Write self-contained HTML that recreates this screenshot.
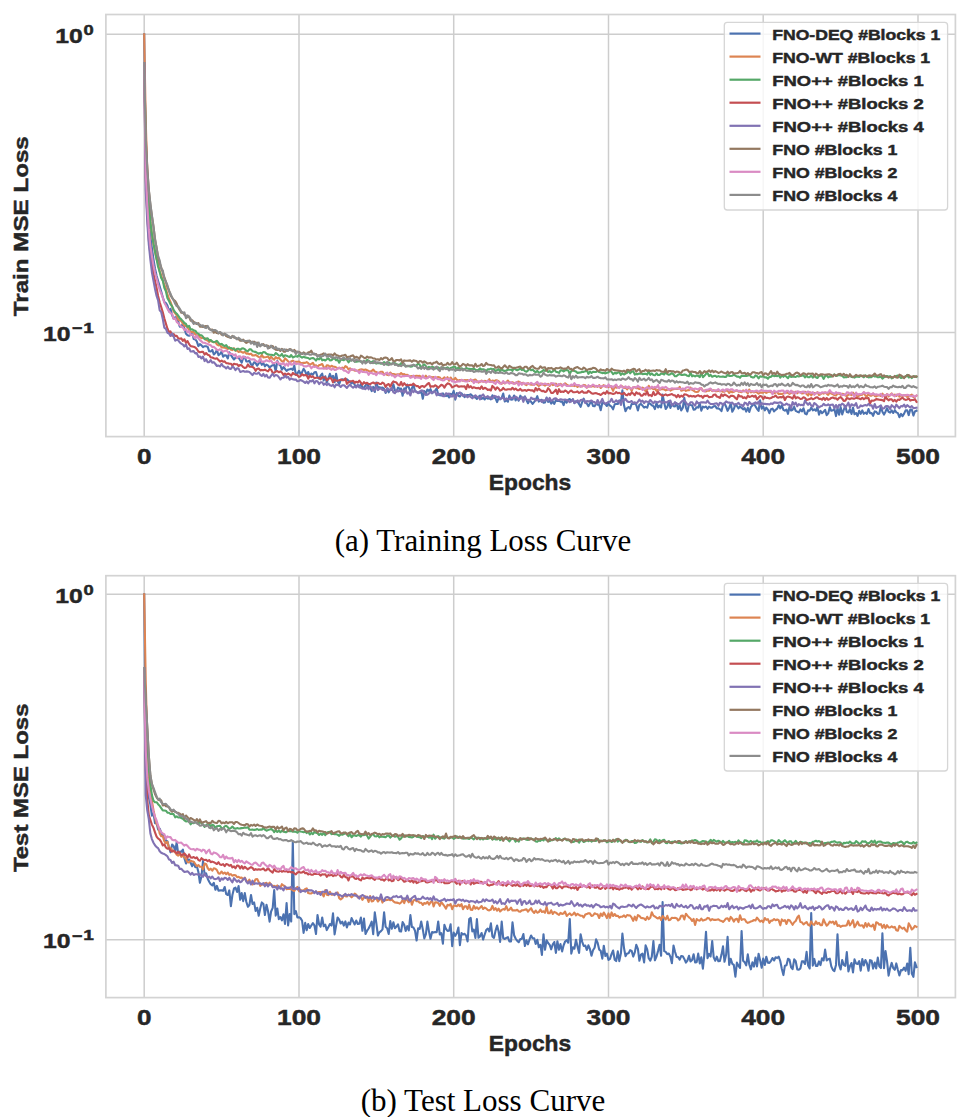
<!DOCTYPE html>
<html><head><meta charset="utf-8"><style>html,body{margin:0;padding:0;background:#fff;width:968px;height:1117px;overflow:hidden}svg{display:block}</style></head>
<body><svg width="968" height="1117" viewBox="0 0 968 1117">
<rect width="968" height="1117" fill="#fff"/>
<line x1="144.2" y1="14.5" x2="144.2" y2="436.6" stroke="#cdcdcd" stroke-width="1.5"/>
<line x1="299.0" y1="14.5" x2="299.0" y2="436.6" stroke="#cdcdcd" stroke-width="1.5"/>
<line x1="453.7" y1="14.5" x2="453.7" y2="436.6" stroke="#cdcdcd" stroke-width="1.5"/>
<line x1="608.5" y1="14.5" x2="608.5" y2="436.6" stroke="#cdcdcd" stroke-width="1.5"/>
<line x1="763.2" y1="14.5" x2="763.2" y2="436.6" stroke="#cdcdcd" stroke-width="1.5"/>
<line x1="918.0" y1="14.5" x2="918.0" y2="436.6" stroke="#cdcdcd" stroke-width="1.5"/>
<line x1="105.9" y1="34.3" x2="955.4" y2="34.3" stroke="#cdcdcd" stroke-width="1.5"/>
<line x1="105.9" y1="332.5" x2="955.4" y2="332.5" stroke="#cdcdcd" stroke-width="1.5"/>
<polyline fill="none" stroke="#4C72B0" stroke-width="2.1" stroke-linejoin="round" stroke-linecap="square" points="144.2,34.3 145.7,164.9 147.3,199.7 148.8,222.2 150.4,236.3 151.9,248.1 153.5,259.3 155.0,268.5 156.6,275.8 158.1,281.0 159.7,286.4 161.2,291.6 162.8,297.2 164.3,301.9 165.9,303.0 167.4,305.6 169.0,311.6 170.5,308.8 172.1,315.0 173.6,318.6 175.2,317.2 176.7,318.8 178.2,321.5 179.8,326.6 181.3,326.4 182.9,323.8 184.4,328.8 186.0,333.8 187.5,335.2 189.1,335.7 190.6,335.1 192.2,332.7 193.7,338.9 195.3,339.4 196.8,341.3 198.4,346.1 199.9,344.0 201.5,345.4 203.0,347.2 204.6,346.2 206.1,346.2 207.7,346.9 209.2,351.3 210.7,351.5 212.3,349.9 213.8,354.5 215.4,352.9 216.9,349.9 218.5,355.2 220.0,354.0 221.6,351.7 223.1,356.7 224.7,355.2 226.2,355.6 227.8,358.4 229.3,352.3 230.9,354.9 232.4,357.4 234.0,359.5 235.5,357.7 237.1,357.4 238.6,357.7 240.2,360.3 241.7,362.6 243.2,357.9 244.8,356.8 246.3,361.4 247.9,361.5 249.4,360.6 251.0,364.5 252.5,365.3 254.1,362.3 255.6,363.1 257.2,365.6 258.7,363.4 260.3,361.4 261.8,364.8 263.4,363.1 264.9,366.3 266.5,364.5 268.0,365.5 269.6,367.5 271.1,366.2 272.7,365.2 274.2,364.6 275.7,371.4 277.3,361.0 278.8,364.1 280.4,365.5 281.9,369.6 283.5,367.1 285.0,368.8 286.6,371.0 288.1,369.6 289.7,369.3 291.2,368.7 292.8,369.9 294.3,365.5 295.9,374.9 297.4,373.6 299.0,370.8 300.5,373.8 302.1,372.2 303.6,368.8 305.2,371.3 306.7,375.4 308.2,372.0 309.8,376.1 311.3,373.5 312.9,374.7 314.4,372.2 316.0,372.0 317.5,377.0 319.1,378.7 320.6,375.6 322.2,373.6 323.7,380.5 325.3,376.3 326.8,382.4 328.4,378.4 329.9,373.8 331.5,377.9 333.0,375.8 334.6,382.2 336.1,373.8 337.6,381.3 339.2,384.2 340.7,379.9 342.3,379.3 343.8,380.0 345.4,379.1 346.9,379.2 348.5,380.8 350.0,381.9 351.6,383.4 353.1,382.0 354.7,384.8 356.2,387.2 357.8,385.2 359.3,387.0 360.9,384.1 362.4,387.2 364.0,387.8 365.5,385.4 367.1,383.5 368.6,386.9 370.1,387.5 371.7,391.1 373.2,386.9 374.8,392.0 376.3,382.5 377.9,387.6 379.4,387.3 381.0,387.8 382.5,387.6 384.1,388.9 385.6,393.0 387.2,388.9 388.7,392.3 390.3,389.4 391.8,390.0 393.4,384.2 394.9,390.2 396.5,391.6 398.0,387.6 399.6,388.9 401.1,388.5 402.6,395.7 404.2,388.4 405.7,389.2 407.3,384.6 408.8,387.4 410.4,391.7 411.9,388.3 413.5,384.9 415.0,390.9 416.6,391.9 418.1,392.5 419.7,392.8 421.2,390.6 422.8,398.8 424.3,391.0 425.9,393.4 427.4,389.5 429.0,391.1 430.5,389.1 432.1,393.3 433.6,392.0 435.1,390.7 436.7,388.4 438.2,394.6 439.8,395.3 441.3,395.5 442.9,393.4 444.4,395.4 446.0,396.1 447.5,395.2 449.1,397.5 450.6,393.9 452.2,394.9 453.7,390.9 455.3,399.6 456.8,393.0 458.4,395.7 459.9,396.5 461.5,393.3 463.0,395.2 464.6,397.1 466.1,395.3 467.6,395.0 469.2,395.1 470.7,394.3 472.3,395.7 473.8,397.1 475.4,397.4 476.9,399.0 478.5,396.7 480.0,395.5 481.6,398.8 483.1,397.8 484.7,399.4 486.2,397.6 487.8,398.6 489.3,398.3 490.9,399.3 492.4,395.3 494.0,397.5 495.5,398.3 497.1,402.1 498.6,397.9 500.1,399.3 501.7,397.9 503.2,393.5 504.8,401.5 506.3,400.3 507.9,401.7 509.4,395.6 511.0,399.7 512.5,399.5 514.1,395.5 515.6,400.4 517.2,398.0 518.7,400.7 520.3,395.7 521.8,397.6 523.4,398.1 524.9,396.3 526.5,400.2 528.0,403.2 529.6,400.2 531.1,401.8 532.6,403.9 534.2,401.8 535.7,399.7 537.3,396.2 538.8,401.6 540.4,400.1 541.9,399.9 543.5,402.8 545.0,402.5 546.6,397.6 548.1,401.9 549.7,400.7 551.2,403.6 552.8,401.6 554.3,403.9 555.9,400.2 557.4,401.0 559.0,400.7 560.5,401.6 562.1,401.6 563.6,405.1 565.1,400.0 566.7,402.6 568.2,399.7 569.8,399.1 571.3,401.2 572.9,399.1 574.4,403.2 576.0,401.1 577.5,401.7 579.1,404.1 580.6,406.8 582.2,401.9 583.7,398.6 585.3,402.4 586.8,403.4 588.4,406.2 589.9,403.4 591.5,401.5 593.0,405.9 594.6,406.3 596.1,403.4 597.6,404.6 599.2,404.8 600.7,410.2 602.3,402.7 603.8,403.2 605.4,404.0 606.9,406.0 608.5,403.7 610.0,405.7 611.6,406.7 613.1,409.3 614.7,404.3 616.2,403.9 617.8,404.0 619.3,400.4 620.9,402.1 622.4,390.4 624.0,405.3 625.5,411.2 627.1,408.0 628.6,407.0 630.1,408.7 631.7,403.7 633.2,403.9 634.8,403.5 636.3,405.0 637.9,410.5 639.4,404.8 641.0,404.0 642.5,405.6 644.1,407.6 645.6,406.8 647.2,407.7 648.7,402.9 650.3,403.7 651.8,405.3 653.4,406.1 654.9,409.1 656.5,402.9 658.0,407.5 659.6,405.5 661.1,407.5 662.6,394.5 664.2,402.8 665.7,409.0 667.3,406.9 668.8,401.6 670.4,408.0 671.9,403.9 673.5,406.1 675.0,406.4 676.6,403.2 678.1,409.1 679.7,405.3 681.2,410.4 682.8,407.8 684.3,397.9 685.9,407.3 687.4,411.4 689.0,404.3 690.5,404.9 692.1,405.3 693.6,409.6 695.1,409.4 696.7,407.2 698.2,407.6 699.8,403.1 701.3,410.6 702.9,406.6 704.4,407.4 706.0,406.5 707.5,408.8 709.1,406.7 710.6,407.6 712.2,407.6 713.7,406.2 715.3,406.0 716.8,408.4 718.4,408.4 719.9,409.3 721.5,411.1 723.0,404.7 724.5,403.3 726.1,406.7 727.6,410.8 729.2,407.7 730.7,403.5 732.3,411.7 733.8,409.1 735.4,404.4 736.9,406.0 738.5,408.3 740.0,406.7 741.6,407.8 743.1,409.4 744.7,408.2 746.2,411.6 747.8,407.8 749.3,411.9 750.9,407.0 752.4,405.6 754.0,403.4 755.5,406.4 757.0,408.8 758.6,410.9 760.1,400.4 761.7,408.6 763.2,406.4 764.8,410.4 766.3,407.6 767.9,409.6 769.4,413.2 771.0,409.2 772.5,408.6 774.1,411.4 775.6,409.8 777.2,408.6 778.7,405.3 780.3,408.4 781.8,405.3 783.4,409.8 784.9,410.7 786.5,409.5 788.0,413.8 789.5,406.7 791.1,410.5 792.6,409.7 794.2,406.8 795.7,410.8 797.3,411.7 798.8,412.4 800.4,409.4 801.9,411.4 803.5,408.3 805.0,413.5 806.6,414.3 808.1,410.4 809.7,410.6 811.2,407.6 812.8,410.3 814.3,409.4 815.9,410.8 817.4,407.0 819.0,414.6 820.5,410.9 822.0,413.1 823.6,411.7 825.1,409.9 826.7,415.2 828.2,413.4 829.8,407.2 831.3,410.8 832.9,410.3 834.4,409.0 836.0,416.1 837.5,408.1 839.1,414.7 840.6,407.0 842.2,414.4 843.7,409.9 845.3,405.9 846.8,412.0 848.4,412.5 849.9,409.2 851.5,414.0 853.0,407.5 854.5,414.3 856.1,413.0 857.6,415.9 859.2,410.8 860.7,413.9 862.3,410.4 863.8,413.8 865.4,412.5 866.9,413.9 868.5,409.0 870.0,413.2 871.6,413.0 873.1,415.8 874.7,411.4 876.2,411.8 877.8,413.9 879.3,413.6 880.9,406.4 882.4,411.8 884.0,414.6 885.5,411.7 887.0,408.2 888.6,411.8 890.1,412.6 891.7,410.4 893.2,413.0 894.8,410.2 896.3,412.4 897.9,413.1 899.4,417.2 901.0,413.9 902.5,416.1 904.1,413.6 905.6,410.4 907.2,410.4 908.7,415.1 910.3,409.5 911.8,409.5 913.4,415.6 914.9,411.5 916.5,410.7"/>
<polyline fill="none" stroke="#DD8452" stroke-width="2.1" stroke-linejoin="round" stroke-linecap="square" points="144.2,34.3 145.7,120.1 147.3,172.2 148.8,202.3 150.4,221.9 151.9,234.5 153.5,244.4 155.0,251.8 156.6,259.2 158.1,263.5 159.7,271.5 161.2,275.1 162.8,280.7 164.3,284.6 165.9,288.9 167.4,294.2 169.0,298.8 170.5,301.9 172.1,306.3 173.6,311.3 175.2,313.3 176.7,315.5 178.2,319.6 179.8,320.5 181.3,321.0 182.9,323.8 184.4,325.6 186.0,326.2 187.5,327.2 189.1,329.9 190.6,331.9 192.2,331.8 193.7,332.2 195.3,334.3 196.8,335.5 198.4,335.3 199.9,337.0 201.5,338.3 203.0,337.8 204.6,338.0 206.1,339.9 207.7,340.5 209.2,342.1 210.7,340.4 212.3,341.7 213.8,342.2 215.4,341.9 216.9,344.4 218.5,345.4 220.0,344.7 221.6,347.4 223.1,347.4 224.7,347.7 226.2,348.0 227.8,349.0 229.3,347.2 230.9,349.7 232.4,350.1 234.0,348.2 235.5,350.7 237.1,350.5 238.6,352.0 240.2,351.2 241.7,352.0 243.2,352.7 244.8,351.9 246.3,353.7 247.9,353.4 249.4,354.3 251.0,353.6 252.5,355.5 254.1,355.4 255.6,354.9 257.2,356.0 258.7,356.9 260.3,357.8 261.8,354.7 263.4,357.4 264.9,357.3 266.5,357.0 268.0,356.4 269.6,358.9 271.1,356.6 272.7,358.7 274.2,359.7 275.7,357.1 277.3,358.6 278.8,357.8 280.4,359.6 281.9,361.2 283.5,361.9 285.0,358.3 286.6,359.8 288.1,361.3 289.7,362.4 291.2,361.5 292.8,360.6 294.3,361.8 295.9,361.8 297.4,361.8 299.0,361.5 300.5,362.8 302.1,363.0 303.6,362.8 305.2,362.9 306.7,362.1 308.2,363.1 309.8,365.0 311.3,363.8 312.9,362.8 314.4,365.7 316.0,365.2 317.5,366.9 319.1,365.1 320.6,364.8 322.2,364.0 323.7,367.0 325.3,368.4 326.8,365.2 328.4,365.6 329.9,367.0 331.5,365.8 333.0,366.5 334.6,366.7 336.1,367.4 337.6,368.5 339.2,367.6 340.7,368.7 342.3,367.5 343.8,368.5 345.4,366.2 346.9,367.0 348.5,369.5 350.0,368.3 351.6,369.6 353.1,369.8 354.7,370.7 356.2,370.4 357.8,370.8 359.3,369.8 360.9,369.4 362.4,369.5 364.0,370.0 365.5,369.5 367.1,370.2 368.6,370.9 370.1,371.4 371.7,371.0 373.2,369.5 374.8,371.6 376.3,372.0 377.9,373.1 379.4,372.7 381.0,371.7 382.5,371.8 384.1,374.7 385.6,373.6 387.2,374.8 388.7,375.3 390.3,372.5 391.8,373.9 393.4,374.1 394.9,374.4 396.5,374.6 398.0,374.4 399.6,374.5 401.1,373.0 402.6,374.5 404.2,374.1 405.7,375.1 407.3,374.7 408.8,376.0 410.4,376.3 411.9,376.0 413.5,376.1 415.0,376.1 416.6,375.7 418.1,376.1 419.7,375.9 421.2,377.0 422.8,376.7 424.3,377.4 425.9,375.7 427.4,378.0 429.0,376.5 430.5,376.7 432.1,377.4 433.6,377.1 435.1,378.1 436.7,377.4 438.2,377.0 439.8,377.4 441.3,379.6 442.9,378.5 444.4,377.4 446.0,378.7 447.5,377.2 449.1,380.7 450.6,377.5 452.2,379.6 453.7,379.8 455.3,377.9 456.8,379.8 458.4,380.6 459.9,380.1 461.5,380.0 463.0,380.8 464.6,380.1 466.1,380.4 467.6,380.1 469.2,380.9 470.7,379.4 472.3,381.3 473.8,380.1 475.4,379.6 476.9,381.1 478.5,382.6 480.0,381.9 481.6,380.5 483.1,381.8 484.7,380.8 486.2,381.2 487.8,381.5 489.3,379.2 490.9,381.8 492.4,380.6 494.0,381.1 495.5,380.4 497.1,380.4 498.6,381.1 500.1,382.9 501.7,383.8 503.2,382.2 504.8,383.4 506.3,382.2 507.9,380.6 509.4,382.7 511.0,383.1 512.5,382.3 514.1,383.1 515.6,383.5 517.2,382.1 518.7,381.6 520.3,382.9 521.8,383.0 523.4,382.9 524.9,384.3 526.5,385.2 528.0,383.1 529.6,384.3 531.1,384.6 532.6,384.4 534.2,384.8 535.7,383.5 537.3,384.7 538.8,386.0 540.4,384.9 541.9,383.5 543.5,384.8 545.0,385.6 546.6,384.7 548.1,383.9 549.7,386.0 551.2,383.3 552.8,385.1 554.3,384.7 555.9,383.6 557.4,386.1 559.0,385.3 560.5,383.8 562.1,385.7 563.6,384.7 565.1,383.3 566.7,384.6 568.2,385.6 569.8,386.0 571.3,385.6 572.9,385.6 574.4,386.1 576.0,385.4 577.5,386.9 579.1,385.9 580.6,386.1 582.2,386.5 583.7,384.9 585.3,385.3 586.8,387.6 588.4,386.5 589.9,386.0 591.5,386.6 593.0,385.9 594.6,386.7 596.1,385.8 597.6,386.8 599.2,385.1 600.7,388.0 602.3,386.2 603.8,385.2 605.4,386.7 606.9,386.6 608.5,387.2 610.0,385.9 611.6,387.5 613.1,390.8 614.7,386.0 616.2,387.7 617.8,387.1 619.3,387.6 620.9,385.7 622.4,386.4 624.0,388.1 625.5,387.6 627.1,389.4 628.6,387.1 630.1,388.0 631.7,390.8 633.2,387.2 634.8,387.1 636.3,388.1 637.9,388.1 639.4,389.0 641.0,388.4 642.5,387.6 644.1,388.6 645.6,391.1 647.2,389.8 648.7,385.8 650.3,388.5 651.8,387.8 653.4,389.3 654.9,388.6 656.5,390.8 658.0,389.8 659.6,389.8 661.1,389.2 662.6,389.0 664.2,389.4 665.7,390.4 667.3,389.7 668.8,388.9 670.4,390.6 671.9,389.6 673.5,389.3 675.0,388.7 676.6,389.0 678.1,388.9 679.7,386.8 681.2,390.7 682.8,390.3 684.3,389.6 685.9,390.9 687.4,390.3 689.0,390.3 690.5,387.5 692.1,389.8 693.6,390.6 695.1,391.8 696.7,392.0 698.2,391.7 699.8,389.1 701.3,388.1 702.9,391.0 704.4,390.5 706.0,391.5 707.5,390.4 709.1,390.8 710.6,389.1 712.2,391.1 713.7,390.3 715.3,391.1 716.8,391.3 718.4,390.8 719.9,391.3 721.5,391.0 723.0,391.8 724.5,391.6 726.1,390.6 727.6,390.6 729.2,393.0 730.7,391.2 732.3,392.3 733.8,391.8 735.4,390.8 736.9,390.7 738.5,391.6 740.0,391.8 741.6,392.2 743.1,390.4 744.7,391.1 746.2,391.6 747.8,393.4 749.3,389.5 750.9,392.3 752.4,391.4 754.0,392.4 755.5,391.5 757.0,392.4 758.6,393.7 760.1,392.5 761.7,392.6 763.2,392.6 764.8,391.5 766.3,392.9 767.9,392.1 769.4,391.6 771.0,392.4 772.5,392.3 774.1,393.3 775.6,392.5 777.2,392.1 778.7,394.1 780.3,393.7 781.8,394.0 783.4,393.4 784.9,392.7 786.5,392.4 788.0,392.6 789.5,393.9 791.1,393.1 792.6,391.5 794.2,393.0 795.7,391.7 797.3,393.3 798.8,392.0 800.4,392.0 801.9,393.4 803.5,393.2 805.0,391.7 806.6,394.1 808.1,395.6 809.7,392.0 811.2,395.3 812.8,392.9 814.3,393.1 815.9,393.5 817.4,392.2 819.0,395.0 820.5,394.3 822.0,393.0 823.6,393.6 825.1,392.4 826.7,393.6 828.2,394.9 829.8,392.3 831.3,393.6 832.9,394.2 834.4,395.2 836.0,395.5 837.5,393.7 839.1,393.5 840.6,394.7 842.2,393.9 843.7,394.0 845.3,395.5 846.8,396.1 848.4,394.7 849.9,394.3 851.5,395.1 853.0,392.7 854.5,394.6 856.1,393.6 857.6,397.1 859.2,395.4 860.7,394.9 862.3,394.6 863.8,392.3 865.4,395.6 866.9,396.5 868.5,394.2 870.0,395.6 871.6,395.7 873.1,393.5 874.7,396.0 876.2,396.5 877.8,395.4 879.3,395.1 880.9,396.0 882.4,393.7 884.0,395.4 885.5,396.4 887.0,394.1 888.6,396.4 890.1,395.0 891.7,393.4 893.2,395.4 894.8,394.6 896.3,395.9 897.9,394.4 899.4,396.7 901.0,394.9 902.5,396.1 904.1,395.1 905.6,395.4 907.2,397.0 908.7,396.0 910.3,395.5 911.8,394.6 913.4,397.1 914.9,396.7 916.5,395.7"/>
<polyline fill="none" stroke="#55A868" stroke-width="2.1" stroke-linejoin="round" stroke-linecap="square" points="144.2,63.0 145.7,145.1 147.3,180.1 148.8,204.7 150.4,222.5 151.9,233.8 153.5,243.6 155.0,251.3 156.6,259.2 158.1,266.7 159.7,271.9 161.2,277.9 162.8,280.6 164.3,287.7 165.9,291.2 167.4,298.1 169.0,300.9 170.5,304.2 172.1,306.3 173.6,309.7 175.2,312.3 176.7,313.7 178.2,315.7 179.8,318.1 181.3,319.4 182.9,321.1 184.4,323.0 186.0,324.0 187.5,326.9 189.1,325.8 190.6,329.5 192.2,329.2 193.7,330.4 195.3,330.7 196.8,332.9 198.4,333.8 199.9,335.1 201.5,335.3 203.0,336.7 204.6,339.2 206.1,338.6 207.7,338.3 209.2,340.6 210.7,340.1 212.3,341.5 213.8,342.1 215.4,341.7 216.9,340.8 218.5,342.9 220.0,344.3 221.6,343.9 223.1,345.2 224.7,346.2 226.2,345.2 227.8,347.4 229.3,348.2 230.9,348.1 232.4,348.6 234.0,348.9 235.5,350.4 237.1,348.7 238.6,348.8 240.2,349.8 241.7,348.6 243.2,348.3 244.8,349.2 246.3,350.8 247.9,351.2 249.4,349.4 251.0,349.3 252.5,351.2 254.1,351.6 255.6,351.9 257.2,352.9 258.7,353.7 260.3,352.9 261.8,353.5 263.4,352.0 264.9,352.2 266.5,353.8 268.0,354.4 269.6,354.7 271.1,354.7 272.7,355.1 274.2,355.3 275.7,353.0 277.3,354.2 278.8,355.5 280.4,355.8 281.9,353.9 283.5,356.8 285.0,355.3 286.6,355.7 288.1,356.4 289.7,357.0 291.2,355.0 292.8,357.5 294.3,356.8 295.9,356.1 297.4,356.7 299.0,355.0 300.5,356.6 302.1,357.6 303.6,356.8 305.2,357.4 306.7,357.7 308.2,358.0 309.8,359.1 311.3,358.2 312.9,358.0 314.4,358.9 316.0,360.6 317.5,358.3 319.1,359.3 320.6,357.3 322.2,360.3 323.7,359.7 325.3,360.5 326.8,359.2 328.4,358.3 329.9,360.4 331.5,360.3 333.0,358.8 334.6,358.3 336.1,360.3 337.6,359.8 339.2,362.7 340.7,359.5 342.3,359.7 343.8,360.2 345.4,358.8 346.9,359.7 348.5,362.3 350.0,360.6 351.6,360.2 353.1,359.7 354.7,361.6 356.2,361.8 357.8,361.5 359.3,361.0 360.9,361.8 362.4,361.9 364.0,361.0 365.5,362.4 367.1,359.8 368.6,360.7 370.1,361.8 371.7,362.1 373.2,361.1 374.8,362.8 376.3,363.6 377.9,363.1 379.4,363.0 381.0,363.7 382.5,363.5 384.1,362.0 385.6,363.1 387.2,364.7 388.7,362.4 390.3,363.8 391.8,363.5 393.4,363.1 394.9,363.1 396.5,364.4 398.0,364.7 399.6,364.9 401.1,363.2 402.6,364.5 404.2,365.3 405.7,366.0 407.3,365.9 408.8,366.2 410.4,366.6 411.9,366.4 413.5,364.9 415.0,365.9 416.6,365.3 418.1,363.7 419.7,364.6 421.2,368.5 422.8,365.4 424.3,364.4 425.9,366.1 427.4,368.3 429.0,366.9 430.5,367.4 432.1,366.9 433.6,367.2 435.1,368.6 436.7,368.2 438.2,367.4 439.8,368.5 441.3,368.8 442.9,367.6 444.4,368.1 446.0,368.2 447.5,367.3 449.1,369.2 450.6,368.0 452.2,367.6 453.7,366.6 455.3,367.1 456.8,369.9 458.4,367.3 459.9,368.9 461.5,368.2 463.0,369.1 464.6,369.3 466.1,368.0 467.6,368.5 469.2,368.9 470.7,369.0 472.3,368.9 473.8,368.7 475.4,369.7 476.9,370.4 478.5,369.7 480.0,368.4 481.6,369.6 483.1,369.3 484.7,369.8 486.2,371.2 487.8,369.2 489.3,369.4 490.9,368.6 492.4,369.2 494.0,369.0 495.5,371.2 497.1,370.0 498.6,369.1 500.1,371.7 501.7,368.4 503.2,370.7 504.8,370.9 506.3,370.5 507.9,369.7 509.4,369.8 511.0,369.7 512.5,370.8 514.1,367.7 515.6,369.6 517.2,370.3 518.7,369.6 520.3,368.4 521.8,370.0 523.4,369.5 524.9,371.1 526.5,371.8 528.0,370.5 529.6,368.5 531.1,370.3 532.6,369.6 534.2,371.2 535.7,372.3 537.3,370.9 538.8,372.7 540.4,372.2 541.9,371.4 543.5,369.9 545.0,371.0 546.6,369.5 548.1,372.0 549.7,371.1 551.2,372.4 552.8,371.4 554.3,369.2 555.9,371.8 557.4,372.1 559.0,372.9 560.5,370.3 562.1,370.4 563.6,371.4 565.1,370.3 566.7,370.0 568.2,370.4 569.8,374.1 571.3,370.9 572.9,370.5 574.4,371.1 576.0,371.6 577.5,372.9 579.1,372.6 580.6,372.5 582.2,371.8 583.7,371.9 585.3,371.2 586.8,370.4 588.4,373.9 589.9,371.5 591.5,373.0 593.0,371.7 594.6,372.0 596.1,371.9 597.6,370.8 599.2,372.1 600.7,372.6 602.3,373.1 603.8,372.8 605.4,373.4 606.9,372.7 608.5,372.4 610.0,370.5 611.6,372.0 613.1,374.2 614.7,372.8 616.2,373.5 617.8,372.5 619.3,372.1 620.9,374.9 622.4,373.3 624.0,374.5 625.5,373.6 627.1,372.8 628.6,370.9 630.1,373.3 631.7,371.7 633.2,371.1 634.8,374.6 636.3,374.1 637.9,374.1 639.4,373.6 641.0,373.6 642.5,374.1 644.1,373.9 645.6,373.8 647.2,374.6 648.7,371.4 650.3,374.8 651.8,373.4 653.4,374.9 654.9,375.3 656.5,373.3 658.0,375.0 659.6,375.0 661.1,373.6 662.6,373.8 664.2,374.5 665.7,372.2 667.3,374.1 668.8,374.7 670.4,374.2 671.9,373.1 673.5,374.3 675.0,376.3 676.6,376.1 678.1,374.7 679.7,374.1 681.2,374.9 682.8,375.0 684.3,374.4 685.9,374.8 687.4,375.8 689.0,376.1 690.5,372.8 692.1,376.3 693.6,375.5 695.1,376.5 696.7,375.4 698.2,375.9 699.8,377.1 701.3,372.6 702.9,377.2 704.4,375.8 706.0,373.8 707.5,373.0 709.1,376.1 710.6,374.8 712.2,376.8 713.7,376.1 715.3,375.7 716.8,376.9 718.4,376.1 719.9,376.7 721.5,376.8 723.0,376.4 724.5,376.9 726.1,376.9 727.6,374.7 729.2,375.9 730.7,376.0 732.3,375.8 733.8,374.6 735.4,375.7 736.9,376.6 738.5,376.5 740.0,377.8 741.6,375.7 743.1,375.9 744.7,375.8 746.2,376.0 747.8,375.8 749.3,374.5 750.9,376.7 752.4,377.4 754.0,377.5 755.5,375.3 757.0,376.2 758.6,378.3 760.1,376.3 761.7,376.8 763.2,376.3 764.8,377.4 766.3,377.4 767.9,378.8 769.4,376.9 771.0,376.9 772.5,375.2 774.1,376.1 775.6,375.8 777.2,376.1 778.7,375.2 780.3,377.7 781.8,375.4 783.4,376.8 784.9,375.2 786.5,376.9 788.0,378.2 789.5,375.7 791.1,376.9 792.6,376.5 794.2,376.8 795.7,377.0 797.3,375.9 798.8,376.4 800.4,376.0 801.9,375.7 803.5,375.3 805.0,377.5 806.6,375.8 808.1,377.2 809.7,377.1 811.2,375.6 812.8,377.6 814.3,375.7 815.9,377.2 817.4,378.0 819.0,375.9 820.5,375.7 822.0,375.7 823.6,378.9 825.1,376.2 826.7,375.3 828.2,377.4 829.8,376.4 831.3,376.6 832.9,375.6 834.4,374.4 836.0,375.9 837.5,375.6 839.1,375.0 840.6,375.5 842.2,375.7 843.7,377.4 845.3,377.3 846.8,377.1 848.4,376.1 849.9,375.4 851.5,376.9 853.0,377.1 854.5,377.6 856.1,376.6 857.6,376.5 859.2,377.0 860.7,375.7 862.3,375.9 863.8,377.3 865.4,375.4 866.9,376.6 868.5,377.4 870.0,376.9 871.6,377.1 873.1,375.6 874.7,376.5 876.2,376.4 877.8,377.3 879.3,377.1 880.9,376.7 882.4,378.6 884.0,377.2 885.5,376.4 887.0,376.1 888.6,376.7 890.1,376.1 891.7,378.3 893.2,377.3 894.8,376.4 896.3,376.1 897.9,375.6 899.4,376.4 901.0,378.0 902.5,377.6 904.1,376.7 905.6,376.9 907.2,374.9 908.7,377.5 910.3,376.5 911.8,378.1 913.4,376.6 914.9,376.2 916.5,376.9"/>
<polyline fill="none" stroke="#C44E52" stroke-width="2.1" stroke-linejoin="round" stroke-linecap="square" points="144.2,63.0 145.7,177.7 147.3,215.2 148.8,240.0 150.4,254.1 151.9,264.2 153.5,273.8 155.0,280.8 156.6,288.0 158.1,296.0 159.7,302.2 161.2,307.0 162.8,312.3 164.3,318.3 165.9,323.6 167.4,328.5 169.0,332.1 170.5,331.4 172.1,335.7 173.6,334.0 175.2,336.1 176.7,335.7 178.2,338.2 179.8,338.7 181.3,338.4 182.9,340.8 184.4,339.3 186.0,342.9 187.5,341.0 189.1,344.2 190.6,346.2 192.2,346.4 193.7,346.8 195.3,347.4 196.8,349.0 198.4,351.5 199.9,352.3 201.5,351.9 203.0,351.7 204.6,354.6 206.1,353.0 207.7,354.8 209.2,355.2 210.7,357.4 212.3,357.5 213.8,358.3 215.4,358.7 216.9,358.2 218.5,360.1 220.0,361.6 221.6,360.5 223.1,361.7 224.7,361.4 226.2,363.1 227.8,363.2 229.3,363.8 230.9,363.7 232.4,365.5 234.0,363.7 235.5,364.2 237.1,364.3 238.6,366.0 240.2,365.0 241.7,365.3 243.2,367.1 244.8,368.0 246.3,367.6 247.9,364.4 249.4,366.6 251.0,366.8 252.5,366.9 254.1,368.1 255.6,370.8 257.2,368.7 258.7,368.5 260.3,370.4 261.8,369.9 263.4,370.3 264.9,369.6 266.5,370.6 268.0,371.3 269.6,369.0 271.1,369.6 272.7,372.8 274.2,372.7 275.7,371.5 277.3,371.1 278.8,372.3 280.4,371.4 281.9,372.5 283.5,374.9 285.0,373.5 286.6,374.8 288.1,373.5 289.7,374.4 291.2,375.7 292.8,372.9 294.3,374.2 295.9,374.6 297.4,375.3 299.0,376.9 300.5,376.2 302.1,374.0 303.6,375.5 305.2,375.0 306.7,375.2 308.2,378.7 309.8,375.5 311.3,377.1 312.9,376.3 314.4,378.2 316.0,377.8 317.5,377.8 319.1,377.8 320.6,379.3 322.2,377.2 323.7,377.6 325.3,377.4 326.8,380.3 328.4,378.7 329.9,378.0 331.5,378.9 333.0,382.3 334.6,379.6 336.1,380.8 337.6,380.6 339.2,380.2 340.7,379.6 342.3,380.2 343.8,380.3 345.4,378.4 346.9,383.9 348.5,382.2 350.0,381.4 351.6,381.2 353.1,380.7 354.7,382.8 356.2,381.7 357.8,382.5 359.3,380.6 360.9,382.7 362.4,384.6 364.0,382.2 365.5,383.5 367.1,382.7 368.6,384.0 370.1,384.1 371.7,383.1 373.2,382.5 374.8,383.5 376.3,383.3 377.9,382.7 379.4,383.9 381.0,384.0 382.5,382.6 384.1,383.6 385.6,387.0 387.2,384.7 388.7,384.0 390.3,386.7 391.8,383.5 393.4,381.4 394.9,382.1 396.5,382.6 398.0,384.6 399.6,385.4 401.1,382.0 402.6,385.7 404.2,383.2 405.7,384.9 407.3,385.2 408.8,385.2 410.4,384.8 411.9,385.0 413.5,383.6 415.0,385.2 416.6,386.1 418.1,386.1 419.7,388.0 421.2,386.3 422.8,386.0 424.3,387.1 425.9,385.6 427.4,384.0 429.0,383.0 430.5,386.9 432.1,386.2 433.6,386.6 435.1,385.3 436.7,386.1 438.2,387.9 439.8,386.2 441.3,384.7 442.9,385.5 444.4,387.6 446.0,384.9 447.5,383.4 449.1,383.7 450.6,384.9 452.2,387.3 453.7,386.6 455.3,385.7 456.8,385.2 458.4,386.6 459.9,386.6 461.5,386.2 463.0,386.6 464.6,386.2 466.1,389.1 467.6,384.5 469.2,387.4 470.7,386.2 472.3,388.2 473.8,387.2 475.4,387.9 476.9,388.2 478.5,387.9 480.0,388.9 481.6,386.3 483.1,389.0 484.7,387.8 486.2,388.5 487.8,389.9 489.3,389.5 490.9,390.5 492.4,385.9 494.0,387.4 495.5,389.6 497.1,387.4 498.6,388.5 500.1,390.7 501.7,389.8 503.2,387.9 504.8,389.5 506.3,389.8 507.9,389.3 509.4,389.2 511.0,389.5 512.5,387.8 514.1,389.6 515.6,388.5 517.2,390.1 518.7,390.2 520.3,388.8 521.8,390.6 523.4,390.4 524.9,390.0 526.5,390.9 528.0,389.8 529.6,390.0 531.1,390.4 532.6,390.4 534.2,391.7 535.7,388.0 537.3,390.3 538.8,388.5 540.4,390.2 541.9,391.1 543.5,390.9 545.0,392.0 546.6,391.4 548.1,388.1 549.7,389.9 551.2,392.9 552.8,393.0 554.3,391.5 555.9,389.7 557.4,393.9 559.0,389.2 560.5,391.9 562.1,391.6 563.6,392.0 565.1,390.5 566.7,391.4 568.2,393.1 569.8,391.4 571.3,390.5 572.9,392.1 574.4,392.2 576.0,392.0 577.5,391.4 579.1,392.9 580.6,392.2 582.2,391.1 583.7,392.7 585.3,392.5 586.8,392.7 588.4,390.8 589.9,391.8 591.5,393.3 593.0,393.8 594.6,393.2 596.1,393.1 597.6,393.8 599.2,394.1 600.7,395.0 602.3,393.7 603.8,392.6 605.4,393.8 606.9,391.2 608.5,393.4 610.0,392.9 611.6,393.4 613.1,394.0 614.7,393.6 616.2,392.0 617.8,393.3 619.3,392.8 620.9,393.7 622.4,394.2 624.0,392.8 625.5,394.7 627.1,395.4 628.6,393.7 630.1,394.8 631.7,392.4 633.2,393.5 634.8,395.2 636.3,392.3 637.9,393.7 639.4,393.3 641.0,395.6 642.5,395.6 644.1,393.7 645.6,394.6 647.2,391.6 648.7,395.5 650.3,395.0 651.8,396.1 653.4,392.0 654.9,395.1 656.5,394.3 658.0,391.9 659.6,394.0 661.1,394.8 662.6,395.8 664.2,395.1 665.7,394.4 667.3,395.5 668.8,394.9 670.4,394.4 671.9,394.0 673.5,395.3 675.0,395.4 676.6,397.3 678.1,394.8 679.7,397.1 681.2,395.7 682.8,396.7 684.3,394.4 685.9,394.5 687.4,395.1 689.0,396.5 690.5,395.8 692.1,396.4 693.6,396.0 695.1,396.8 696.7,395.9 698.2,395.2 699.8,396.3 701.3,395.9 702.9,397.8 704.4,395.7 706.0,396.0 707.5,395.6 709.1,397.3 710.6,397.0 712.2,396.8 713.7,394.7 715.3,394.5 716.8,396.5 718.4,397.0 719.9,397.9 721.5,394.3 723.0,396.1 724.5,394.5 726.1,395.3 727.6,396.2 729.2,397.5 730.7,395.9 732.3,395.7 733.8,396.2 735.4,398.0 736.9,399.3 738.5,394.9 740.0,396.4 741.6,396.2 743.1,398.0 744.7,397.2 746.2,398.5 747.8,395.7 749.3,396.9 750.9,396.4 752.4,395.7 754.0,396.8 755.5,395.7 757.0,399.4 758.6,397.5 760.1,396.0 761.7,396.5 763.2,399.1 764.8,396.7 766.3,398.0 767.9,397.9 769.4,398.5 771.0,398.0 772.5,397.1 774.1,396.7 775.6,395.5 777.2,397.4 778.7,397.6 780.3,397.1 781.8,397.4 783.4,396.2 784.9,400.0 786.5,397.1 788.0,396.5 789.5,397.0 791.1,397.5 792.6,398.6 794.2,395.1 795.7,398.4 797.3,397.2 798.8,397.7 800.4,399.0 801.9,398.8 803.5,397.2 805.0,397.9 806.6,400.1 808.1,399.6 809.7,399.1 811.2,398.1 812.8,399.2 814.3,398.6 815.9,397.6 817.4,397.2 819.0,398.9 820.5,398.7 822.0,399.7 823.6,397.8 825.1,399.9 826.7,398.0 828.2,399.8 829.8,399.1 831.3,397.9 832.9,397.5 834.4,398.4 836.0,398.3 837.5,399.7 839.1,397.9 840.6,397.1 842.2,398.7 843.7,400.9 845.3,400.6 846.8,398.1 848.4,398.5 849.9,399.2 851.5,398.2 853.0,398.6 854.5,398.6 856.1,397.8 857.6,398.3 859.2,398.5 860.7,399.3 862.3,397.8 863.8,399.2 865.4,398.1 866.9,398.3 868.5,398.0 870.0,403.6 871.6,400.6 873.1,400.7 874.7,400.2 876.2,399.1 877.8,399.4 879.3,399.7 880.9,399.9 882.4,400.1 884.0,401.1 885.5,396.2 887.0,398.9 888.6,400.3 890.1,399.2 891.7,399.4 893.2,401.3 894.8,399.9 896.3,401.6 897.9,399.6 899.4,400.0 901.0,398.6 902.5,397.6 904.1,399.3 905.6,399.9 907.2,399.5 908.7,398.4 910.3,400.6 911.8,400.0 913.4,400.0 914.9,399.1 916.5,401.8"/>
<polyline fill="none" stroke="#8172B3" stroke-width="2.1" stroke-linejoin="round" stroke-linecap="square" points="144.2,63.0 145.7,189.9 147.3,222.4 148.8,244.5 150.4,259.8 151.9,272.2 153.5,280.9 155.0,288.8 156.6,295.9 158.1,300.3 159.7,310.4 161.2,312.0 162.8,319.0 164.3,327.6 165.9,328.9 167.4,332.7 169.0,333.5 170.5,336.0 172.1,333.5 173.6,336.5 175.2,340.7 176.7,339.8 178.2,340.3 179.8,342.4 181.3,343.7 182.9,344.6 184.4,346.5 186.0,344.5 187.5,348.9 189.1,348.3 190.6,351.5 192.2,351.4 193.7,351.1 195.3,353.5 196.8,353.1 198.4,356.9 199.9,356.4 201.5,358.5 203.0,356.5 204.6,361.1 206.1,359.2 207.7,362.2 209.2,362.2 210.7,360.1 212.3,362.7 213.8,362.1 215.4,364.0 216.9,366.0 218.5,365.5 220.0,366.5 221.6,363.9 223.1,366.3 224.7,367.0 226.2,368.5 227.8,366.6 229.3,368.7 230.9,368.9 232.4,366.6 234.0,367.7 235.5,370.1 237.1,368.3 238.6,368.6 240.2,371.9 241.7,371.4 243.2,371.0 244.8,371.8 246.3,371.4 247.9,371.6 249.4,372.0 251.0,373.5 252.5,375.1 254.1,372.8 255.6,373.7 257.2,373.7 258.7,372.5 260.3,374.9 261.8,376.0 263.4,373.9 264.9,376.5 266.5,374.8 268.0,377.4 269.6,377.8 271.1,375.7 272.7,373.7 274.2,376.3 275.7,375.0 277.3,375.4 278.8,377.1 280.4,379.5 281.9,377.7 283.5,377.8 285.0,375.7 286.6,377.7 288.1,376.8 289.7,379.7 291.2,378.4 292.8,379.3 294.3,379.6 295.9,379.5 297.4,381.3 299.0,380.9 300.5,380.0 302.1,380.8 303.6,381.6 305.2,383.0 306.7,381.4 308.2,383.5 309.8,380.8 311.3,381.5 312.9,380.0 314.4,383.4 316.0,381.0 317.5,381.2 319.1,384.1 320.6,382.3 322.2,382.2 323.7,384.8 325.3,383.4 326.8,385.1 328.4,383.5 329.9,385.2 331.5,385.9 333.0,384.7 334.6,387.3 336.1,384.4 337.6,384.9 339.2,385.4 340.7,386.9 342.3,385.3 343.8,385.2 345.4,386.4 346.9,387.9 348.5,385.8 350.0,384.7 351.6,386.5 353.1,387.7 354.7,386.3 356.2,387.4 357.8,384.7 359.3,387.5 360.9,387.8 362.4,388.7 364.0,388.4 365.5,389.2 367.1,386.9 368.6,389.3 370.1,386.2 371.7,387.9 373.2,390.4 374.8,390.2 376.3,386.5 377.9,390.1 379.4,388.8 381.0,388.5 382.5,390.0 384.1,390.0 385.6,391.9 387.2,388.1 388.7,389.6 390.3,390.1 391.8,387.9 393.4,392.3 394.9,393.2 396.5,390.0 398.0,391.5 399.6,390.7 401.1,391.6 402.6,390.4 404.2,392.7 405.7,390.0 407.3,393.6 408.8,392.4 410.4,395.4 411.9,389.8 413.5,392.1 415.0,390.5 416.6,392.2 418.1,393.2 419.7,391.4 421.2,390.8 422.8,390.5 424.3,393.3 425.9,394.9 427.4,394.8 429.0,393.4 430.5,392.1 432.1,393.0 433.6,391.5 435.1,391.5 436.7,395.3 438.2,393.5 439.8,394.5 441.3,393.7 442.9,396.1 444.4,396.3 446.0,393.3 447.5,394.0 449.1,393.6 450.6,396.5 452.2,396.5 453.7,394.5 455.3,398.2 456.8,395.1 458.4,393.4 459.9,392.4 461.5,395.1 463.0,395.9 464.6,394.7 466.1,396.1 467.6,397.3 469.2,395.7 470.7,397.0 472.3,398.3 473.8,396.7 475.4,395.3 476.9,396.8 478.5,397.0 480.0,399.4 481.6,395.8 483.1,394.4 484.7,397.0 486.2,397.2 487.8,396.2 489.3,397.6 490.9,397.4 492.4,398.7 494.0,395.9 495.5,396.2 497.1,397.2 498.6,396.6 500.1,399.2 501.7,398.3 503.2,397.5 504.8,399.8 506.3,398.4 507.9,399.2 509.4,399.0 511.0,397.7 512.5,397.8 514.1,398.1 515.6,396.6 517.2,397.7 518.7,399.5 520.3,398.8 521.8,397.1 523.4,401.8 524.9,397.1 526.5,399.5 528.0,399.7 529.6,400.6 531.1,397.6 532.6,398.9 534.2,398.7 535.7,400.6 537.3,399.6 538.8,399.8 540.4,400.0 541.9,402.0 543.5,400.3 545.0,400.7 546.6,398.2 548.1,400.5 549.7,397.9 551.2,401.0 552.8,399.9 554.3,398.6 555.9,398.3 557.4,399.8 559.0,400.2 560.5,399.2 562.1,399.6 563.6,399.7 565.1,399.5 566.7,400.0 568.2,400.7 569.8,402.2 571.3,401.3 572.9,399.7 574.4,402.8 576.0,402.2 577.5,400.3 579.1,402.1 580.6,400.0 582.2,399.7 583.7,399.8 585.3,403.1 586.8,401.1 588.4,401.4 589.9,401.1 591.5,400.5 593.0,401.8 594.6,402.1 596.1,403.9 597.6,400.0 599.2,403.4 600.7,402.2 602.3,398.9 603.8,402.7 605.4,403.7 606.9,403.0 608.5,401.8 610.0,401.7 611.6,398.8 613.1,402.0 614.7,401.9 616.2,400.3 617.8,401.9 619.3,400.8 620.9,404.9 622.4,400.0 624.0,400.5 625.5,398.8 627.1,401.2 628.6,402.0 630.1,401.9 631.7,401.0 633.2,403.1 634.8,402.2 636.3,403.6 637.9,401.8 639.4,399.5 641.0,401.8 642.5,400.6 644.1,403.2 645.6,401.2 647.2,401.7 648.7,402.1 650.3,400.0 651.8,401.6 653.4,403.4 654.9,401.4 656.5,401.9 658.0,402.4 659.6,401.3 661.1,401.8 662.6,402.9 664.2,401.7 665.7,402.4 667.3,402.1 668.8,400.9 670.4,400.5 671.9,405.1 673.5,404.3 675.0,402.2 676.6,403.8 678.1,404.0 679.7,403.8 681.2,402.0 682.8,400.5 684.3,400.8 685.9,402.2 687.4,404.5 689.0,404.8 690.5,402.3 692.1,402.2 693.6,404.3 695.1,405.6 696.7,401.4 698.2,403.4 699.8,403.0 701.3,402.3 702.9,402.4 704.4,402.4 706.0,402.8 707.5,400.7 709.1,402.9 710.6,404.0 712.2,404.0 713.7,404.1 715.3,403.5 716.8,403.3 718.4,405.8 719.9,402.8 721.5,403.3 723.0,404.9 724.5,403.2 726.1,401.4 727.6,402.4 729.2,402.6 730.7,403.0 732.3,402.6 733.8,404.7 735.4,404.3 736.9,404.0 738.5,402.8 740.0,404.8 741.6,404.8 743.1,406.5 744.7,402.6 746.2,403.3 747.8,405.4 749.3,402.0 750.9,403.9 752.4,403.9 754.0,403.7 755.5,402.3 757.0,403.7 758.6,401.6 760.1,405.4 761.7,403.1 763.2,404.0 764.8,403.8 766.3,404.1 767.9,404.1 769.4,404.5 771.0,403.4 772.5,404.0 774.1,402.4 775.6,402.6 777.2,402.9 778.7,402.7 780.3,402.2 781.8,403.3 783.4,405.0 784.9,404.8 786.5,403.6 788.0,404.7 789.5,404.8 791.1,408.0 792.6,402.1 794.2,404.7 795.7,402.6 797.3,406.2 798.8,404.2 800.4,405.1 801.9,404.8 803.5,405.5 805.0,400.6 806.6,403.0 808.1,404.8 809.7,402.9 811.2,405.5 812.8,406.5 814.3,403.0 815.9,404.2 817.4,405.7 819.0,407.4 820.5,406.3 822.0,406.0 823.6,403.8 825.1,405.1 826.7,405.3 828.2,404.3 829.8,405.7 831.3,404.7 832.9,404.6 834.4,408.2 836.0,405.0 837.5,407.9 839.1,404.8 840.6,405.3 842.2,403.7 843.7,404.6 845.3,407.7 846.8,405.5 848.4,402.7 849.9,407.5 851.5,404.3 853.0,405.0 854.5,405.6 856.1,403.1 857.6,407.9 859.2,407.5 860.7,405.3 862.3,406.3 863.8,405.4 865.4,405.0 866.9,405.6 868.5,403.9 870.0,405.4 871.6,405.2 873.1,408.7 874.7,404.0 876.2,407.9 877.8,407.1 879.3,406.4 880.9,405.4 882.4,408.8 884.0,408.3 885.5,406.3 887.0,406.1 888.6,406.6 890.1,409.0 891.7,405.2 893.2,406.6 894.8,408.1 896.3,404.6 897.9,406.5 899.4,408.2 901.0,406.0 902.5,406.5 904.1,404.6 905.6,407.3 907.2,405.2 908.7,406.3 910.3,407.3 911.8,406.1 913.4,408.1 914.9,408.0 916.5,407.7"/>
<polyline fill="none" stroke="#937860" stroke-width="2.1" stroke-linejoin="round" stroke-linecap="square" points="144.2,63.0 145.7,134.9 147.3,168.1 148.8,189.6 150.4,204.8 151.9,215.9 153.5,226.6 155.0,239.6 156.6,247.8 158.1,257.5 159.7,263.0 161.2,267.3 162.8,272.8 164.3,277.2 165.9,281.6 167.4,287.0 169.0,290.3 170.5,295.3 172.1,297.7 173.6,299.8 175.2,301.1 176.7,303.5 178.2,307.5 179.8,310.1 181.3,312.7 182.9,312.5 184.4,314.8 186.0,315.4 187.5,317.2 189.1,316.6 190.6,320.7 192.2,320.3 193.7,321.9 195.3,323.3 196.8,324.0 198.4,323.1 199.9,326.6 201.5,326.5 203.0,326.9 204.6,326.4 206.1,326.1 207.7,326.7 209.2,328.8 210.7,329.8 212.3,329.6 213.8,332.7 215.4,331.8 216.9,333.1 218.5,333.5 220.0,332.1 221.6,334.7 223.1,334.7 224.7,333.6 226.2,336.1 227.8,336.9 229.3,337.3 230.9,337.9 232.4,335.9 234.0,337.6 235.5,337.7 237.1,338.8 238.6,339.3 240.2,340.7 241.7,340.8 243.2,339.6 244.8,341.7 246.3,342.9 247.9,342.0 249.4,340.5 251.0,341.8 252.5,342.7 254.1,341.6 255.6,343.5 257.2,342.7 258.7,345.1 260.3,345.4 261.8,345.0 263.4,344.2 264.9,346.1 266.5,345.5 268.0,345.8 269.6,347.9 271.1,346.3 272.7,346.0 274.2,348.5 275.7,349.8 277.3,349.9 278.8,349.4 280.4,351.0 281.9,348.8 283.5,351.6 285.0,351.8 286.6,349.6 288.1,350.6 289.7,349.1 291.2,349.6 292.8,351.4 294.3,349.9 295.9,351.5 297.4,352.0 299.0,351.8 300.5,352.9 302.1,354.0 303.6,352.4 305.2,353.5 306.7,354.1 308.2,352.3 309.8,352.3 311.3,350.7 312.9,353.7 314.4,354.5 316.0,354.0 317.5,355.8 319.1,355.4 320.6,354.8 322.2,354.1 323.7,353.4 325.3,354.5 326.8,355.0 328.4,354.6 329.9,354.5 331.5,354.5 333.0,355.7 334.6,353.4 336.1,354.9 337.6,355.5 339.2,356.2 340.7,356.3 342.3,355.5 343.8,355.3 345.4,354.8 346.9,357.3 348.5,356.8 350.0,356.5 351.6,355.7 353.1,355.4 354.7,357.9 356.2,356.8 357.8,357.4 359.3,358.9 360.9,355.6 362.4,356.5 364.0,357.8 365.5,358.2 367.1,356.6 368.6,357.7 370.1,357.3 371.7,357.5 373.2,358.5 374.8,358.5 376.3,359.6 377.9,359.2 379.4,360.2 381.0,358.0 382.5,359.4 384.1,357.7 385.6,357.5 387.2,357.9 388.7,360.2 390.3,359.8 391.8,358.1 393.4,361.2 394.9,361.0 396.5,360.0 398.0,360.0 399.6,360.4 401.1,359.3 402.6,363.0 404.2,360.4 405.7,360.8 407.3,360.8 408.8,360.6 410.4,360.4 411.9,361.8 413.5,360.4 415.0,360.7 416.6,361.1 418.1,362.8 419.7,361.1 421.2,361.2 422.8,362.7 424.3,361.3 425.9,362.3 427.4,363.6 429.0,363.2 430.5,362.9 432.1,364.6 433.6,362.7 435.1,362.6 436.7,361.6 438.2,363.5 439.8,364.2 441.3,363.0 442.9,365.6 444.4,364.8 446.0,364.8 447.5,362.8 449.1,364.4 450.6,364.5 452.2,362.2 453.7,364.3 455.3,364.2 456.8,362.7 458.4,365.1 459.9,366.7 461.5,365.5 463.0,363.9 464.6,364.6 466.1,366.1 467.6,364.2 469.2,365.4 470.7,365.2 472.3,365.4 473.8,367.0 475.4,363.8 476.9,366.6 478.5,365.8 480.0,365.5 481.6,364.0 483.1,366.0 484.7,365.4 486.2,362.9 487.8,364.5 489.3,364.8 490.9,365.0 492.4,365.5 494.0,365.3 495.5,367.8 497.1,367.4 498.6,366.3 500.1,367.8 501.7,368.6 503.2,367.0 504.8,365.3 506.3,367.0 507.9,368.1 509.4,365.8 511.0,366.8 512.5,367.8 514.1,368.1 515.6,367.8 517.2,367.4 518.7,367.0 520.3,366.6 521.8,368.2 523.4,368.2 524.9,366.8 526.5,366.7 528.0,368.7 529.6,368.5 531.1,366.8 532.6,365.9 534.2,367.7 535.7,368.5 537.3,368.7 538.8,368.6 540.4,366.3 541.9,367.9 543.5,367.5 545.0,367.2 546.6,370.7 548.1,368.1 549.7,368.4 551.2,367.9 552.8,368.9 554.3,369.4 555.9,368.0 557.4,368.3 559.0,367.9 560.5,367.4 562.1,368.3 563.6,368.9 565.1,368.6 566.7,368.4 568.2,366.8 569.8,369.0 571.3,368.9 572.9,370.3 574.4,368.2 576.0,367.5 577.5,367.0 579.1,368.3 580.6,368.9 582.2,369.3 583.7,367.5 585.3,368.6 586.8,370.2 588.4,369.3 589.9,368.9 591.5,368.9 593.0,367.8 594.6,368.0 596.1,368.9 597.6,370.7 599.2,370.7 600.7,369.4 602.3,370.2 603.8,370.1 605.4,370.9 606.9,369.0 608.5,370.0 610.0,370.8 611.6,368.6 613.1,369.8 614.7,370.2 616.2,370.4 617.8,370.5 619.3,370.7 620.9,371.1 622.4,371.5 624.0,370.6 625.5,372.4 627.1,369.8 628.6,370.1 630.1,370.7 631.7,369.6 633.2,368.9 634.8,369.1 636.3,371.7 637.9,369.9 639.4,369.2 641.0,372.5 642.5,371.0 644.1,370.9 645.6,369.7 647.2,371.0 648.7,370.3 650.3,371.0 651.8,370.8 653.4,370.6 654.9,371.1 656.5,370.0 658.0,370.5 659.6,370.2 661.1,371.4 662.6,371.8 664.2,371.9 665.7,369.2 667.3,372.9 668.8,371.0 670.4,371.1 671.9,371.2 673.5,371.2 675.0,372.6 676.6,371.5 678.1,371.7 679.7,372.4 681.2,372.8 682.8,370.5 684.3,370.3 685.9,369.6 687.4,369.7 689.0,371.9 690.5,371.7 692.1,371.6 693.6,372.0 695.1,372.0 696.7,373.0 698.2,373.5 699.8,371.0 701.3,373.4 702.9,373.0 704.4,371.1 706.0,372.1 707.5,371.6 709.1,370.3 710.6,372.1 712.2,370.5 713.7,372.2 715.3,371.1 716.8,371.9 718.4,373.0 719.9,372.4 721.5,371.5 723.0,372.5 724.5,373.0 726.1,373.4 727.6,371.6 729.2,373.6 730.7,372.3 732.3,372.0 733.8,373.7 735.4,373.2 736.9,373.3 738.5,372.8 740.0,370.9 741.6,373.2 743.1,373.3 744.7,372.7 746.2,374.5 747.8,373.0 749.3,374.6 750.9,374.1 752.4,372.3 754.0,372.2 755.5,372.7 757.0,373.0 758.6,373.8 760.1,372.5 761.7,372.1 763.2,375.4 764.8,373.3 766.3,373.6 767.9,375.1 769.4,373.5 771.0,371.1 772.5,373.9 774.1,372.9 775.6,374.5 777.2,371.7 778.7,373.8 780.3,374.4 781.8,375.1 783.4,374.7 784.9,374.7 786.5,373.8 788.0,373.8 789.5,372.8 791.1,374.8 792.6,375.5 794.2,374.5 795.7,373.1 797.3,372.6 798.8,373.5 800.4,375.6 801.9,374.3 803.5,373.2 805.0,373.8 806.6,375.0 808.1,373.6 809.7,373.8 811.2,373.8 812.8,373.5 814.3,376.3 815.9,373.6 817.4,374.7 819.0,375.7 820.5,374.4 822.0,374.2 823.6,374.5 825.1,374.7 826.7,374.5 828.2,374.3 829.8,374.4 831.3,374.9 832.9,376.6 834.4,374.5 836.0,375.7 837.5,374.8 839.1,374.0 840.6,373.9 842.2,375.4 843.7,373.8 845.3,375.6 846.8,374.8 848.4,376.9 849.9,374.2 851.5,376.4 853.0,376.7 854.5,376.2 856.1,374.9 857.6,375.8 859.2,375.6 860.7,375.3 862.3,376.4 863.8,375.5 865.4,375.8 866.9,376.7 868.5,375.6 870.0,375.4 871.6,376.0 873.1,375.3 874.7,373.5 876.2,375.4 877.8,375.7 879.3,374.8 880.9,374.1 882.4,376.5 884.0,375.4 885.5,376.7 887.0,376.6 888.6,377.7 890.1,376.8 891.7,377.1 893.2,377.6 894.8,375.9 896.3,377.4 897.9,377.6 899.4,374.6 901.0,375.4 902.5,376.6 904.1,378.2 905.6,376.2 907.2,375.3 908.7,375.0 910.3,376.9 911.8,376.9 913.4,376.1 914.9,377.0 916.5,376.4"/>
<polyline fill="none" stroke="#DA8BC3" stroke-width="2.1" stroke-linejoin="round" stroke-linecap="square" points="144.2,63.0 145.7,170.1 147.3,205.2 148.8,229.7 150.4,246.1 151.9,256.1 153.5,265.5 155.0,272.7 156.6,278.5 158.1,284.5 159.7,290.0 161.2,293.4 162.8,298.0 164.3,302.8 165.9,305.6 167.4,308.6 169.0,311.1 170.5,313.2 172.1,313.9 173.6,318.9 175.2,318.4 176.7,321.9 178.2,323.3 179.8,325.1 181.3,326.7 182.9,327.5 184.4,330.1 186.0,329.2 187.5,332.4 189.1,331.1 190.6,335.1 192.2,334.4 193.7,336.3 195.3,338.4 196.8,335.7 198.4,338.4 199.9,340.2 201.5,341.4 203.0,342.7 204.6,342.8 206.1,343.5 207.7,343.8 209.2,344.8 210.7,345.3 212.3,347.0 213.8,346.9 215.4,348.2 216.9,349.8 218.5,350.1 220.0,349.3 221.6,350.2 223.1,351.7 224.7,350.9 226.2,350.4 227.8,351.8 229.3,353.9 230.9,353.7 232.4,354.0 234.0,355.6 235.5,354.3 237.1,358.1 238.6,356.3 240.2,356.3 241.7,359.0 243.2,356.3 244.8,357.2 246.3,357.9 247.9,357.3 249.4,358.3 251.0,359.5 252.5,359.3 254.1,359.4 255.6,360.6 257.2,361.8 258.7,361.7 260.3,358.3 261.8,362.0 263.4,361.6 264.9,361.4 266.5,360.2 268.0,361.0 269.6,361.4 271.1,360.4 272.7,363.2 274.2,363.1 275.7,362.4 277.3,361.6 278.8,364.1 280.4,363.6 281.9,364.2 283.5,362.9 285.0,365.9 286.6,363.5 288.1,365.8 289.7,362.1 291.2,364.6 292.8,364.5 294.3,362.1 295.9,364.2 297.4,363.8 299.0,363.8 300.5,364.6 302.1,364.4 303.6,366.1 305.2,366.4 306.7,366.4 308.2,365.5 309.8,366.0 311.3,368.3 312.9,366.5 314.4,367.0 316.0,366.6 317.5,367.9 319.1,368.4 320.6,368.5 322.2,368.3 323.7,368.8 325.3,368.0 326.8,369.0 328.4,367.6 329.9,368.9 331.5,369.8 333.0,368.1 334.6,370.0 336.1,369.7 337.6,368.4 339.2,368.1 340.7,368.3 342.3,369.0 343.8,370.6 345.4,370.6 346.9,371.8 348.5,373.0 350.0,370.4 351.6,369.0 353.1,369.7 354.7,369.3 356.2,370.8 357.8,371.1 359.3,373.1 360.9,370.4 362.4,371.9 364.0,372.0 365.5,372.3 367.1,372.0 368.6,374.8 370.1,372.7 371.7,373.0 373.2,373.9 374.8,373.5 376.3,375.2 377.9,372.4 379.4,373.5 381.0,373.4 382.5,374.0 384.1,375.1 385.6,373.7 387.2,372.5 388.7,374.7 390.3,373.7 391.8,375.6 393.4,375.3 394.9,377.3 396.5,375.9 398.0,374.7 399.6,376.1 401.1,376.9 402.6,376.1 404.2,376.1 405.7,376.0 407.3,376.0 408.8,375.6 410.4,377.9 411.9,377.2 413.5,375.5 415.0,378.2 416.6,377.3 418.1,377.6 419.7,377.7 421.2,378.8 422.8,375.5 424.3,377.9 425.9,378.6 427.4,378.0 429.0,376.6 430.5,377.1 432.1,378.7 433.6,380.1 435.1,376.8 436.7,378.3 438.2,379.3 439.8,379.3 441.3,379.7 442.9,380.5 444.4,380.2 446.0,378.1 447.5,379.3 449.1,378.6 450.6,379.8 452.2,381.4 453.7,381.1 455.3,382.4 456.8,381.6 458.4,381.4 459.9,381.4 461.5,379.8 463.0,380.5 464.6,381.3 466.1,381.5 467.6,381.5 469.2,380.0 470.7,380.0 472.3,380.0 473.8,383.1 475.4,381.2 476.9,382.2 478.5,381.4 480.0,381.4 481.6,381.4 483.1,381.3 484.7,381.8 486.2,382.7 487.8,380.6 489.3,382.0 490.9,381.8 492.4,381.7 494.0,382.9 495.5,383.9 497.1,381.0 498.6,382.6 500.1,383.6 501.7,383.4 503.2,381.0 504.8,383.2 506.3,382.4 507.9,382.4 509.4,383.7 511.0,382.0 512.5,383.3 514.1,384.0 515.6,382.6 517.2,382.3 518.7,385.5 520.3,382.4 521.8,384.8 523.4,382.9 524.9,383.8 526.5,383.2 528.0,383.9 529.6,384.0 531.1,382.8 532.6,383.8 534.2,384.9 535.7,383.3 537.3,381.9 538.8,384.4 540.4,383.4 541.9,384.7 543.5,384.0 545.0,383.6 546.6,384.2 548.1,384.9 549.7,384.9 551.2,383.3 552.8,383.3 554.3,383.5 555.9,386.0 557.4,385.0 559.0,384.0 560.5,384.7 562.1,386.4 563.6,384.0 565.1,384.7 566.7,386.0 568.2,386.0 569.8,386.0 571.3,384.5 572.9,385.4 574.4,383.1 576.0,385.2 577.5,385.0 579.1,385.1 580.6,386.9 582.2,385.6 583.7,385.6 585.3,386.6 586.8,387.7 588.4,385.2 589.9,386.8 591.5,385.8 593.0,384.6 594.6,385.6 596.1,386.6 597.6,386.1 599.2,385.9 600.7,386.4 602.3,386.2 603.8,386.3 605.4,385.6 606.9,387.2 608.5,384.4 610.0,386.9 611.6,386.0 613.1,387.6 614.7,385.8 616.2,384.6 617.8,387.5 619.3,388.1 620.9,385.3 622.4,387.6 624.0,387.5 625.5,386.3 627.1,387.9 628.6,386.5 630.1,388.4 631.7,388.7 633.2,387.1 634.8,387.2 636.3,387.7 637.9,385.7 639.4,387.0 641.0,387.8 642.5,390.0 644.1,389.0 645.6,388.2 647.2,387.1 648.7,388.4 650.3,388.1 651.8,386.7 653.4,387.9 654.9,386.8 656.5,387.7 658.0,385.0 659.6,389.7 661.1,387.8 662.6,387.3 664.2,387.8 665.7,386.8 667.3,388.3 668.8,389.9 670.4,388.9 671.9,388.3 673.5,388.5 675.0,388.8 676.6,388.4 678.1,388.2 679.7,388.9 681.2,389.2 682.8,388.4 684.3,389.3 685.9,387.8 687.4,387.3 689.0,387.2 690.5,389.5 692.1,388.4 693.6,389.2 695.1,388.5 696.7,388.9 698.2,389.5 699.8,388.0 701.3,388.8 702.9,390.9 704.4,391.5 706.0,389.7 707.5,389.8 709.1,389.1 710.6,388.6 712.2,390.5 713.7,391.0 715.3,390.3 716.8,390.4 718.4,389.2 719.9,391.2 721.5,390.3 723.0,389.5 724.5,391.2 726.1,389.3 727.6,389.2 729.2,390.4 730.7,389.3 732.3,389.3 733.8,391.0 735.4,390.6 736.9,390.0 738.5,391.2 740.0,390.7 741.6,391.4 743.1,391.5 744.7,391.5 746.2,389.7 747.8,391.7 749.3,390.9 750.9,391.3 752.4,391.0 754.0,391.7 755.5,390.8 757.0,390.6 758.6,391.7 760.1,390.8 761.7,390.0 763.2,391.0 764.8,390.9 766.3,390.9 767.9,391.1 769.4,390.7 771.0,390.7 772.5,394.3 774.1,390.6 775.6,391.8 777.2,391.7 778.7,390.9 780.3,391.1 781.8,390.6 783.4,390.5 784.9,393.4 786.5,390.7 788.0,390.9 789.5,392.8 791.1,390.6 792.6,393.3 794.2,391.9 795.7,393.4 797.3,391.2 798.8,391.5 800.4,392.9 801.9,391.8 803.5,391.5 805.0,393.2 806.6,392.3 808.1,391.5 809.7,392.4 811.2,392.9 812.8,392.2 814.3,394.8 815.9,393.1 817.4,392.5 819.0,392.8 820.5,393.6 822.0,392.2 823.6,392.5 825.1,392.8 826.7,392.6 828.2,392.5 829.8,390.1 831.3,392.3 832.9,392.9 834.4,394.0 836.0,392.2 837.5,393.1 839.1,392.9 840.6,393.3 842.2,395.1 843.7,394.8 845.3,395.0 846.8,392.4 848.4,392.6 849.9,394.1 851.5,392.4 853.0,394.5 854.5,397.0 856.1,392.5 857.6,394.7 859.2,393.9 860.7,394.3 862.3,393.6 863.8,392.2 865.4,393.4 866.9,393.1 868.5,392.7 870.0,393.9 871.6,394.4 873.1,393.2 874.7,394.8 876.2,394.3 877.8,394.8 879.3,394.8 880.9,393.8 882.4,396.8 884.0,395.1 885.5,395.5 887.0,394.3 888.6,394.7 890.1,395.5 891.7,393.9 893.2,395.1 894.8,396.3 896.3,394.6 897.9,395.1 899.4,393.8 901.0,395.1 902.5,395.4 904.1,395.1 905.6,395.6 907.2,394.8 908.7,395.0 910.3,396.3 911.8,396.2 913.4,395.6 914.9,397.1 916.5,395.4"/>
<polyline fill="none" stroke="#8C8C8C" stroke-width="2.1" stroke-linejoin="round" stroke-linecap="square" points="144.2,63.0 145.7,140.0 147.3,169.9 148.8,189.8 150.4,203.9 151.9,215.6 153.5,226.9 155.0,238.5 156.6,248.1 158.1,255.9 159.7,260.5 161.2,268.7 162.8,270.5 164.3,278.8 165.9,281.9 167.4,285.1 169.0,291.1 170.5,293.6 172.1,297.7 173.6,300.1 175.2,303.7 176.7,306.1 178.2,306.4 179.8,308.8 181.3,311.6 182.9,312.9 184.4,312.4 186.0,318.2 187.5,315.4 189.1,316.8 190.6,318.7 192.2,321.6 193.7,323.8 195.3,322.6 196.8,323.3 198.4,324.6 199.9,324.7 201.5,325.9 203.0,325.3 204.6,327.5 206.1,328.1 207.7,325.9 209.2,328.9 210.7,329.8 212.3,330.8 213.8,330.0 215.4,330.1 216.9,331.1 218.5,333.2 220.0,332.3 221.6,333.0 223.1,335.4 224.7,334.0 226.2,334.4 227.8,335.7 229.3,336.5 230.9,337.9 232.4,336.4 234.0,336.2 235.5,338.1 237.1,339.3 238.6,337.7 240.2,339.1 241.7,340.3 243.2,340.7 244.8,340.9 246.3,341.0 247.9,340.9 249.4,341.1 251.0,343.6 252.5,341.7 254.1,344.4 255.6,342.3 257.2,346.9 258.7,342.6 260.3,346.3 261.8,344.1 263.4,345.3 264.9,345.7 266.5,345.4 268.0,348.6 269.6,346.8 271.1,345.7 272.7,348.0 274.2,348.4 275.7,346.9 277.3,348.9 278.8,348.7 280.4,349.7 281.9,349.9 283.5,349.5 285.0,349.4 286.6,351.0 288.1,350.7 289.7,349.2 291.2,350.4 292.8,350.7 294.3,351.2 295.9,354.0 297.4,351.6 299.0,352.7 300.5,354.2 302.1,353.3 303.6,353.5 305.2,354.6 306.7,353.7 308.2,353.9 309.8,354.7 311.3,354.6 312.9,353.8 314.4,353.5 316.0,354.8 317.5,356.5 319.1,355.1 320.6,356.7 322.2,356.2 323.7,355.7 325.3,353.6 326.8,356.7 328.4,356.4 329.9,355.3 331.5,357.6 333.0,357.3 334.6,357.9 336.1,357.1 337.6,358.1 339.2,357.6 340.7,359.4 342.3,358.6 343.8,357.3 345.4,359.1 346.9,359.1 348.5,359.1 350.0,358.1 351.6,360.7 353.1,359.1 354.7,361.6 356.2,359.5 357.8,360.4 359.3,360.5 360.9,360.9 362.4,363.6 364.0,360.6 365.5,363.4 367.1,362.1 368.6,361.0 370.1,363.1 371.7,362.8 373.2,363.1 374.8,361.0 376.3,363.0 377.9,362.3 379.4,362.7 381.0,362.9 382.5,363.3 384.1,365.0 385.6,363.9 387.2,361.9 388.7,365.1 390.3,364.2 391.8,364.4 393.4,362.6 394.9,365.0 396.5,364.2 398.0,365.9 399.6,365.5 401.1,366.1 402.6,365.0 404.2,363.7 405.7,366.7 407.3,366.3 408.8,365.7 410.4,365.6 411.9,365.4 413.5,364.7 415.0,365.5 416.6,366.7 418.1,368.5 419.7,367.5 421.2,368.8 422.8,366.4 424.3,368.8 425.9,367.2 427.4,369.3 429.0,369.2 430.5,368.1 432.1,368.4 433.6,369.6 435.1,367.7 436.7,366.5 438.2,369.6 439.8,371.1 441.3,367.1 442.9,369.3 444.4,368.1 446.0,369.1 447.5,368.5 449.1,370.5 450.6,369.2 452.2,369.7 453.7,368.9 455.3,370.8 456.8,369.7 458.4,369.9 459.9,370.3 461.5,369.1 463.0,370.6 464.6,369.1 466.1,370.6 467.6,370.7 469.2,370.7 470.7,371.0 472.3,370.6 473.8,371.9 475.4,371.5 476.9,371.1 478.5,371.5 480.0,371.1 481.6,371.8 483.1,371.7 484.7,370.3 486.2,373.8 487.8,371.8 489.3,371.7 490.9,372.8 492.4,370.5 494.0,372.3 495.5,373.1 497.1,372.6 498.6,373.0 500.1,372.6 501.7,372.8 503.2,373.2 504.8,373.5 506.3,372.3 507.9,373.8 509.4,373.9 511.0,373.0 512.5,373.2 514.1,373.9 515.6,375.1 517.2,375.1 518.7,373.3 520.3,373.6 521.8,373.7 523.4,374.7 524.9,374.3 526.5,374.8 528.0,375.8 529.6,374.9 531.1,375.1 532.6,375.2 534.2,374.1 535.7,374.8 537.3,374.8 538.8,374.6 540.4,376.7 541.9,375.9 543.5,372.7 545.0,374.6 546.6,375.4 548.1,375.6 549.7,374.9 551.2,375.4 552.8,375.4 554.3,375.4 555.9,376.6 557.4,376.0 559.0,375.6 560.5,375.9 562.1,376.3 563.6,375.3 565.1,375.9 566.7,377.1 568.2,377.6 569.8,374.3 571.3,379.2 572.9,376.2 574.4,377.7 576.0,375.7 577.5,377.8 579.1,377.2 580.6,377.2 582.2,377.0 583.7,377.2 585.3,378.2 586.8,376.8 588.4,377.4 589.9,377.3 591.5,376.1 593.0,377.9 594.6,377.9 596.1,377.5 597.6,376.7 599.2,377.8 600.7,378.1 602.3,378.3 603.8,378.4 605.4,377.3 606.9,379.5 608.5,379.4 610.0,379.5 611.6,379.2 613.1,380.2 614.7,379.6 616.2,380.1 617.8,379.4 619.3,379.3 620.9,379.9 622.4,378.6 624.0,379.1 625.5,379.7 627.1,378.9 628.6,377.2 630.1,379.1 631.7,379.0 633.2,380.7 634.8,378.0 636.3,379.2 637.9,381.7 639.4,377.8 641.0,379.9 642.5,379.7 644.1,378.7 645.6,380.5 647.2,379.6 648.7,377.9 650.3,380.1 651.8,379.4 653.4,381.9 654.9,380.9 656.5,379.9 658.0,381.2 659.6,383.0 661.1,379.9 662.6,380.2 664.2,381.2 665.7,381.4 667.3,381.6 668.8,380.0 670.4,381.7 671.9,380.5 673.5,381.0 675.0,382.7 676.6,381.2 678.1,382.5 679.7,381.7 681.2,382.2 682.8,382.3 684.3,382.9 685.9,383.0 687.4,381.6 689.0,384.1 690.5,383.1 692.1,383.5 693.6,383.6 695.1,382.2 696.7,382.7 698.2,382.9 699.8,383.1 701.3,384.6 702.9,384.8 704.4,386.5 706.0,384.9 707.5,384.8 709.1,383.2 710.6,382.4 712.2,383.4 713.7,383.1 715.3,382.4 716.8,383.3 718.4,384.0 719.9,383.7 721.5,384.6 723.0,384.3 724.5,384.2 726.1,385.1 727.6,383.8 729.2,384.0 730.7,385.4 732.3,385.0 733.8,382.5 735.4,384.2 736.9,385.7 738.5,384.7 740.0,385.5 741.6,382.8 743.1,384.8 744.7,382.4 746.2,385.1 747.8,383.2 749.3,385.9 750.9,383.8 752.4,384.7 754.0,384.9 755.5,384.6 757.0,383.1 758.6,385.4 760.1,384.2 761.7,387.2 763.2,384.5 764.8,385.1 766.3,384.5 767.9,386.6 769.4,386.4 771.0,385.6 772.5,386.1 774.1,384.2 775.6,384.1 777.2,386.4 778.7,384.3 780.3,384.9 781.8,383.6 783.4,384.8 784.9,385.7 786.5,385.2 788.0,383.8 789.5,386.1 791.1,385.5 792.6,382.9 794.2,384.3 795.7,385.1 797.3,384.9 798.8,385.7 800.4,386.6 801.9,385.5 803.5,385.5 805.0,387.0 806.6,387.3 808.1,385.4 809.7,387.3 811.2,384.0 812.8,387.3 814.3,386.3 815.9,385.0 817.4,385.3 819.0,386.0 820.5,387.2 822.0,386.8 823.6,386.2 825.1,385.6 826.7,386.1 828.2,384.8 829.8,385.6 831.3,385.2 832.9,385.7 834.4,386.5 836.0,385.8 837.5,384.4 839.1,387.2 840.6,386.2 842.2,386.6 843.7,385.5 845.3,386.0 846.8,386.0 848.4,387.7 849.9,385.1 851.5,387.2 853.0,386.3 854.5,387.1 856.1,385.8 857.6,384.7 859.2,387.3 860.7,386.0 862.3,386.9 863.8,387.2 865.4,384.7 866.9,386.0 868.5,386.3 870.0,387.1 871.6,387.2 873.1,387.4 874.7,386.4 876.2,388.0 877.8,386.7 879.3,386.6 880.9,386.2 882.4,385.6 884.0,386.7 885.5,387.0 887.0,387.0 888.6,388.9 890.1,387.1 891.7,387.2 893.2,385.5 894.8,386.6 896.3,386.9 897.9,387.3 899.4,386.7 901.0,387.2 902.5,385.9 904.1,388.0 905.6,387.9 907.2,385.8 908.7,385.4 910.3,386.3 911.8,387.1 913.4,386.1 914.9,387.1 916.5,387.7"/>
<rect x="105.9" y="14.5" width="849.5" height="422.1" fill="none" stroke="#d3d3d3" stroke-width="1.7"/>
<text x="144.2" y="463.7" font-family="Liberation Sans" font-size="21.84" font-weight="bold" fill="#262626" text-anchor="middle" textLength="14.5" lengthAdjust="spacingAndGlyphs" stroke="#262626" stroke-width="0.45" >0</text>
<text x="299.0" y="463.7" font-family="Liberation Sans" font-size="21.84" font-weight="bold" fill="#262626" text-anchor="middle" textLength="44.0" lengthAdjust="spacingAndGlyphs" stroke="#262626" stroke-width="0.45" >100</text>
<text x="453.7" y="463.7" font-family="Liberation Sans" font-size="21.84" font-weight="bold" fill="#262626" text-anchor="middle" textLength="44.0" lengthAdjust="spacingAndGlyphs" stroke="#262626" stroke-width="0.45" >200</text>
<text x="608.5" y="463.7" font-family="Liberation Sans" font-size="21.84" font-weight="bold" fill="#262626" text-anchor="middle" textLength="44.0" lengthAdjust="spacingAndGlyphs" stroke="#262626" stroke-width="0.45" >300</text>
<text x="763.2" y="463.7" font-family="Liberation Sans" font-size="21.84" font-weight="bold" fill="#262626" text-anchor="middle" textLength="44.0" lengthAdjust="spacingAndGlyphs" stroke="#262626" stroke-width="0.45" >400</text>
<text x="918.0" y="463.7" font-family="Liberation Sans" font-size="21.84" font-weight="bold" fill="#262626" text-anchor="middle" textLength="44.0" lengthAdjust="spacingAndGlyphs" stroke="#262626" stroke-width="0.45" >500</text>
<text x="530" y="489.8" font-family="Liberation Sans" font-size="21.84" font-weight="bold" fill="#262626" text-anchor="middle" textLength="82.5" lengthAdjust="spacingAndGlyphs" stroke="#262626" stroke-width="0.45" >Epochs</text>
<text x="55.2" y="43.1" font-family="Liberation Sans" font-size="21.0" font-weight="bold" fill="#262626" text-anchor="start" textLength="27.5" lengthAdjust="spacingAndGlyphs" stroke="#262626" stroke-width="0.45" >10</text>
<text x="83.6" y="35.0" font-family="Liberation Sans" font-size="14.7" font-weight="bold" fill="#262626" text-anchor="start" textLength="10.2" lengthAdjust="spacingAndGlyphs" stroke="#262626" stroke-width="0.45" >0</text>
<text x="43.1" y="340.6" font-family="Liberation Sans" font-size="21.0" font-weight="bold" fill="#262626" text-anchor="start" textLength="27.5" lengthAdjust="spacingAndGlyphs" stroke="#262626" stroke-width="0.45" >10</text>
<text x="72.0" y="333.4" font-family="Liberation Sans" font-size="14.7" font-weight="bold" fill="#262626" text-anchor="start" textLength="10.5" lengthAdjust="spacingAndGlyphs" stroke="#262626" stroke-width="0.45" >−</text>
<text x="83.2" y="332.8" font-family="Liberation Sans" font-size="14.7" font-weight="bold" fill="#262626" text-anchor="start" textLength="10.6" lengthAdjust="spacingAndGlyphs" stroke="#262626" stroke-width="0.45" >1</text>
<g transform="translate(28.3,226.2) rotate(-90)"><text x="0" y="0" font-family="Liberation Sans" font-size="21.0" font-weight="bold" fill="#262626" text-anchor="middle" textLength="180" lengthAdjust="spacingAndGlyphs" stroke="#262626" stroke-width="0.45" >Train MSE Loss</text></g>
<rect x="724.3" y="22.4" width="223.3" height="187.6" rx="3" ry="3" fill="#ffffff" fill-opacity="0.8" stroke="#d6d6d6" stroke-width="1.3"/>
<line x1="729.5" y1="33.6" x2="760.5" y2="33.6" stroke="#4C72B0" stroke-width="2.2"/>
<text x="772.3" y="40.1" font-family="Liberation Sans" font-size="14.91" font-weight="bold" fill="#262626" text-anchor="start" textLength="167.9" lengthAdjust="spacingAndGlyphs" stroke="#262626" stroke-width="0.45" >FNO-DEQ #Blocks 1</text>
<line x1="729.5" y1="56.6" x2="760.5" y2="56.6" stroke="#DD8452" stroke-width="2.2"/>
<text x="772.3" y="63.0" font-family="Liberation Sans" font-size="14.91" font-weight="bold" fill="#262626" text-anchor="start" textLength="157.9" lengthAdjust="spacingAndGlyphs" stroke="#262626" stroke-width="0.45" >FNO-WT #Blocks 1</text>
<line x1="729.5" y1="79.7" x2="760.5" y2="79.7" stroke="#55A868" stroke-width="2.2"/>
<text x="772.3" y="86.0" font-family="Liberation Sans" font-size="14.91" font-weight="bold" fill="#262626" text-anchor="start" textLength="151.4" lengthAdjust="spacingAndGlyphs" stroke="#262626" stroke-width="0.45" >FNO++ #Blocks 1</text>
<line x1="729.5" y1="102.7" x2="760.5" y2="102.7" stroke="#C44E52" stroke-width="2.2"/>
<text x="772.3" y="108.9" font-family="Liberation Sans" font-size="14.91" font-weight="bold" fill="#262626" text-anchor="start" textLength="151.4" lengthAdjust="spacingAndGlyphs" stroke="#262626" stroke-width="0.45" >FNO++ #Blocks 2</text>
<line x1="729.5" y1="125.8" x2="760.5" y2="125.8" stroke="#8172B3" stroke-width="2.2"/>
<text x="772.3" y="131.8" font-family="Liberation Sans" font-size="14.91" font-weight="bold" fill="#262626" text-anchor="start" textLength="151.4" lengthAdjust="spacingAndGlyphs" stroke="#262626" stroke-width="0.45" >FNO++ #Blocks 4</text>
<line x1="729.5" y1="148.8" x2="760.5" y2="148.8" stroke="#937860" stroke-width="2.2"/>
<text x="772.3" y="154.8" font-family="Liberation Sans" font-size="14.91" font-weight="bold" fill="#262626" text-anchor="start" textLength="125.2" lengthAdjust="spacingAndGlyphs" stroke="#262626" stroke-width="0.45" >FNO #Blocks 1</text>
<line x1="729.5" y1="171.8" x2="760.5" y2="171.8" stroke="#DA8BC3" stroke-width="2.2"/>
<text x="772.3" y="177.7" font-family="Liberation Sans" font-size="14.91" font-weight="bold" fill="#262626" text-anchor="start" textLength="125.2" lengthAdjust="spacingAndGlyphs" stroke="#262626" stroke-width="0.45" >FNO #Blocks 2</text>
<line x1="729.5" y1="194.9" x2="760.5" y2="194.9" stroke="#8C8C8C" stroke-width="2.2"/>
<text x="772.3" y="200.6" font-family="Liberation Sans" font-size="14.91" font-weight="bold" fill="#262626" text-anchor="start" textLength="125.2" lengthAdjust="spacingAndGlyphs" stroke="#262626" stroke-width="0.45" >FNO #Blocks 4</text>
<line x1="144.2" y1="575.7" x2="144.2" y2="997.6" stroke="#cdcdcd" stroke-width="1.5"/>
<line x1="299.0" y1="575.7" x2="299.0" y2="997.6" stroke="#cdcdcd" stroke-width="1.5"/>
<line x1="453.7" y1="575.7" x2="453.7" y2="997.6" stroke="#cdcdcd" stroke-width="1.5"/>
<line x1="608.5" y1="575.7" x2="608.5" y2="997.6" stroke="#cdcdcd" stroke-width="1.5"/>
<line x1="763.2" y1="575.7" x2="763.2" y2="997.6" stroke="#cdcdcd" stroke-width="1.5"/>
<line x1="918.0" y1="575.7" x2="918.0" y2="997.6" stroke="#cdcdcd" stroke-width="1.5"/>
<line x1="105.9" y1="594.2" x2="955.4" y2="594.2" stroke="#cdcdcd" stroke-width="1.5"/>
<line x1="105.9" y1="939.7" x2="955.4" y2="939.7" stroke="#cdcdcd" stroke-width="1.5"/>
<polyline fill="none" stroke="#4C72B0" stroke-width="2.1" stroke-linejoin="round" stroke-linecap="square" points="144.2,594.2 145.7,755.3 147.3,784.2 148.8,797.1 150.4,804.5 151.9,815.7 153.5,813.0 155.0,823.2 156.6,823.1 158.1,829.6 159.7,828.5 161.2,832.7 162.8,835.7 164.3,835.9 165.9,840.7 167.4,841.2 169.0,847.5 170.5,852.3 172.1,844.6 173.6,846.0 175.2,850.8 176.7,842.3 178.2,853.9 179.8,851.6 181.3,851.8 182.9,849.7 184.4,858.2 186.0,863.5 187.5,859.8 189.1,859.5 190.6,862.7 192.2,866.2 193.7,862.7 195.3,867.2 196.8,865.9 198.4,872.1 199.9,882.8 201.5,876.2 203.0,861.0 204.6,874.4 206.1,873.3 207.7,878.7 209.2,881.7 210.7,884.2 212.3,885.3 213.8,882.8 215.4,889.8 216.9,885.9 218.5,890.7 220.0,890.4 221.6,890.3 223.1,890.9 224.7,887.0 226.2,894.1 227.8,895.0 229.3,890.4 230.9,906.2 232.4,895.0 234.0,888.5 235.5,887.7 237.1,892.0 238.6,886.0 240.2,899.8 241.7,893.1 243.2,901.1 244.8,893.1 246.3,901.8 247.9,906.8 249.4,905.1 251.0,895.0 252.5,903.9 254.1,902.4 255.6,910.9 257.2,907.8 258.7,915.8 260.3,908.0 261.8,902.4 263.4,903.9 264.9,915.0 266.5,904.7 268.0,911.0 269.6,921.6 271.1,911.5 272.7,907.8 274.2,890.0 275.7,915.6 277.3,908.5 278.8,919.1 280.4,917.0 281.9,920.4 283.5,914.3 285.0,923.9 286.6,903.0 288.1,925.4 289.7,914.0 291.2,921.5 292.8,841.3 294.3,914.1 295.9,911.2 297.4,917.5 299.0,917.2 300.5,918.1 302.1,920.8 303.6,932.9 305.2,922.9 306.7,930.2 308.2,924.1 309.8,928.0 311.3,925.5 312.9,923.1 314.4,925.3 316.0,934.0 317.5,915.0 319.1,924.5 320.6,926.6 322.2,917.5 323.7,926.3 325.3,924.7 326.8,930.1 328.4,927.1 329.9,924.0 331.5,925.6 333.0,913.4 334.6,934.4 336.1,925.6 337.6,917.5 339.2,919.6 340.7,923.5 342.3,921.7 343.8,925.6 345.4,921.4 346.9,927.4 348.5,922.6 350.0,924.5 351.6,918.1 353.1,921.3 354.7,924.5 356.2,920.5 357.8,924.0 359.3,923.7 360.9,917.5 362.4,930.8 364.0,918.6 365.5,934.0 367.1,930.7 368.6,928.5 370.1,925.6 371.7,921.6 373.2,934.2 374.8,912.4 376.3,922.8 377.9,935.5 379.4,932.3 381.0,931.1 382.5,929.4 384.1,912.4 385.6,926.7 387.2,928.4 388.7,934.0 390.3,921.1 391.8,928.7 393.4,922.3 394.9,928.2 396.5,926.6 398.0,924.3 399.6,931.2 401.1,931.6 402.6,922.1 404.2,924.8 405.7,931.0 407.3,926.2 408.8,930.4 410.4,915.1 411.9,927.1 413.5,927.6 415.0,930.7 416.6,940.5 418.1,928.3 419.7,928.9 421.2,921.5 422.8,929.4 424.3,938.4 425.9,934.1 427.4,921.6 429.0,931.6 430.5,938.7 432.1,932.1 433.6,932.6 435.1,932.1 436.7,932.1 438.2,921.5 439.8,934.4 441.3,933.1 442.9,943.7 444.4,924.8 446.0,929.0 447.5,930.9 449.1,930.7 450.6,924.2 452.2,946.2 453.7,932.6 455.3,935.8 456.8,933.2 458.4,927.5 459.9,945.1 461.5,933.1 463.0,934.5 464.6,933.8 466.1,935.7 467.6,941.4 469.2,919.0 470.7,917.8 472.3,931.4 473.8,929.5 475.4,937.9 476.9,919.0 478.5,937.8 480.0,936.4 481.6,933.0 483.1,939.6 484.7,934.5 486.2,930.1 487.8,928.6 489.3,931.4 490.9,923.4 492.4,936.4 494.0,937.9 495.5,930.9 497.1,925.5 498.6,931.5 500.1,941.9 501.7,921.5 503.2,938.1 504.8,939.0 506.3,937.9 507.9,937.2 509.4,941.5 511.0,941.5 512.5,922.3 514.1,935.2 515.6,938.5 517.2,940.8 518.7,942.2 520.3,939.0 521.8,938.9 523.4,934.1 524.9,946.0 526.5,940.3 528.0,944.3 529.6,939.2 531.1,935.5 532.6,938.3 534.2,938.3 535.7,944.0 537.3,939.8 538.8,947.3 540.4,944.8 541.9,954.9 543.5,934.2 545.0,949.8 546.6,940.3 548.1,943.0 549.7,944.9 551.2,949.3 552.8,944.3 554.3,942.0 555.9,952.9 557.4,941.2 559.0,949.7 560.5,944.1 562.1,951.4 563.6,945.3 565.1,941.5 566.7,940.2 568.2,942.7 569.8,919.0 571.3,953.6 572.9,947.2 574.4,948.7 576.0,939.8 577.5,946.5 579.1,953.0 580.6,934.3 582.2,941.8 583.7,946.0 585.3,945.6 586.8,950.0 588.4,945.3 589.9,949.0 591.5,955.8 593.0,950.2 594.6,947.7 596.1,939.4 597.6,942.7 599.2,949.6 600.7,950.8 602.3,958.6 603.8,945.7 605.4,956.0 606.9,953.7 608.5,960.0 610.0,958.9 611.6,953.9 613.1,950.5 614.7,959.7 616.2,961.1 617.8,951.3 619.3,961.1 620.9,953.3 622.4,933.5 624.0,948.0 625.5,956.1 627.1,953.5 628.6,953.2 630.1,950.2 631.7,951.0 633.2,956.6 634.8,952.4 636.3,944.8 637.9,948.8 639.4,960.8 641.0,954.5 642.5,953.5 644.1,962.4 645.6,945.4 647.2,949.4 648.7,958.2 650.3,960.6 651.8,956.6 653.4,941.0 654.9,960.3 656.5,956.5 658.0,951.1 659.6,944.8 661.1,955.8 662.6,902.0 664.2,951.1 665.7,951.9 667.3,954.1 668.8,953.5 670.4,956.8 671.9,963.3 673.5,945.5 675.0,951.8 676.6,956.9 678.1,957.1 679.7,959.6 681.2,956.0 682.8,956.2 684.3,958.9 685.9,962.6 687.4,960.7 689.0,955.8 690.5,961.5 692.1,960.0 693.6,954.3 695.1,962.4 696.7,962.1 698.2,953.6 699.8,963.4 701.3,957.3 702.9,968.6 704.4,953.8 706.0,931.8 707.5,958.1 709.1,953.9 710.6,956.5 712.2,941.0 713.7,957.4 715.3,960.7 716.8,956.7 718.4,961.3 719.9,960.9 721.5,954.6 723.0,946.4 724.5,961.8 726.1,954.8 727.6,936.8 729.2,964.9 730.7,958.7 732.3,963.8 733.8,964.9 735.4,976.6 736.9,962.6 738.5,965.8 740.0,967.9 741.6,931.0 743.1,960.8 744.7,962.3 746.2,965.3 747.8,954.3 749.3,964.5 750.9,969.3 752.4,962.4 754.0,966.6 755.5,957.5 757.0,966.4 758.6,953.7 760.1,960.3 761.7,967.8 763.2,958.5 764.8,965.0 766.3,956.8 767.9,962.6 769.4,962.9 771.0,960.8 772.5,958.0 774.1,960.5 775.6,957.3 777.2,958.1 778.7,956.7 780.3,961.2 781.8,968.7 783.4,975.1 784.9,965.7 786.5,965.2 788.0,958.8 789.5,959.6 791.1,967.3 792.6,969.1 794.2,959.3 795.7,961.2 797.3,969.5 798.8,969.8 800.4,968.4 801.9,961.4 803.5,961.4 805.0,964.0 806.6,951.8 808.1,965.5 809.7,968.5 811.2,913.1 812.8,965.6 814.3,958.9 815.9,966.0 817.4,965.9 819.0,961.4 820.5,965.1 822.0,958.2 823.6,960.5 825.1,949.6 826.7,960.4 828.2,959.2 829.8,958.7 831.3,966.4 832.9,969.9 834.4,971.1 836.0,964.9 837.5,934.3 839.1,964.9 840.6,969.5 842.2,960.0 843.7,964.8 845.3,965.8 846.8,952.0 848.4,971.4 849.9,966.2 851.5,963.0 853.0,972.4 854.5,959.3 856.1,963.5 857.6,964.0 859.2,961.1 860.7,970.6 862.3,959.1 863.8,965.5 865.4,960.0 866.9,963.2 868.5,970.8 870.0,960.1 871.6,960.8 873.1,968.6 874.7,962.6 876.2,968.4 877.8,957.6 879.3,966.4 880.9,968.1 882.4,933.4 884.0,968.1 885.5,951.0 887.0,960.8 888.6,975.6 890.1,968.4 891.7,962.9 893.2,968.0 894.8,969.8 896.3,963.4 897.9,970.0 899.4,975.4 901.0,970.1 902.5,970.3 904.1,967.6 905.6,970.8 907.2,963.5 908.7,974.3 910.3,947.8 911.8,973.5 913.4,976.8 914.9,962.3 916.5,967.2"/>
<polyline fill="none" stroke="#DD8452" stroke-width="2.1" stroke-linejoin="round" stroke-linecap="square" points="144.2,594.2 145.7,680.0 147.3,740.2 148.8,779.6 150.4,792.9 151.9,801.1 153.5,810.3 155.0,817.3 156.6,824.0 158.1,825.9 159.7,833.6 161.2,836.3 162.8,836.2 164.3,841.2 165.9,843.4 167.4,841.8 169.0,848.1 170.5,847.9 172.1,850.2 173.6,850.9 175.2,852.5 176.7,854.6 178.2,855.7 179.8,853.7 181.3,856.9 182.9,855.8 184.4,856.8 186.0,859.2 187.5,862.1 189.1,862.4 190.6,860.8 192.2,861.3 193.7,861.7 195.3,864.0 196.8,866.1 198.4,865.0 199.9,866.8 201.5,866.7 203.0,869.4 204.6,863.6 206.1,864.0 207.7,868.0 209.2,870.0 210.7,868.7 212.3,870.7 213.8,868.3 215.4,868.7 216.9,870.1 218.5,873.4 220.0,873.6 221.6,871.5 223.1,873.6 224.7,872.5 226.2,874.2 227.8,872.6 229.3,874.9 230.9,874.1 232.4,875.7 234.0,875.1 235.5,875.2 237.1,877.2 238.6,876.8 240.2,877.9 241.7,877.5 243.2,879.7 244.8,877.5 246.3,880.7 247.9,882.1 249.4,879.6 251.0,883.6 252.5,884.5 254.1,882.0 255.6,879.2 257.2,879.0 258.7,882.0 260.3,885.9 261.8,884.0 263.4,884.7 264.9,883.2 266.5,882.7 268.0,885.0 269.6,882.7 271.1,884.7 272.7,886.2 274.2,885.7 275.7,886.9 277.3,885.4 278.8,887.6 280.4,887.6 281.9,884.2 283.5,885.5 285.0,886.4 286.6,889.2 288.1,888.8 289.7,889.0 291.2,889.1 292.8,890.2 294.3,891.0 295.9,888.5 297.4,886.9 299.0,891.2 300.5,889.9 302.1,890.5 303.6,890.4 305.2,888.9 306.7,888.4 308.2,893.1 309.8,893.5 311.3,893.4 312.9,892.3 314.4,892.6 316.0,891.6 317.5,892.7 319.1,892.0 320.6,892.0 322.2,893.5 323.7,896.4 325.3,890.1 326.8,894.8 328.4,895.1 329.9,891.8 331.5,894.8 333.0,894.6 334.6,893.7 336.1,893.8 337.6,892.4 339.2,898.1 340.7,899.4 342.3,898.2 343.8,895.0 345.4,896.2 346.9,896.5 348.5,894.6 350.0,895.7 351.6,897.3 353.1,895.7 354.7,893.5 356.2,894.5 357.8,897.4 359.3,896.5 360.9,896.7 362.4,899.9 364.0,897.7 365.5,896.4 367.1,897.8 368.6,901.9 370.1,896.1 371.7,901.5 373.2,901.1 374.8,898.3 376.3,898.2 377.9,901.5 379.4,899.5 381.0,898.3 382.5,902.6 384.1,899.8 385.6,900.2 387.2,899.9 388.7,899.4 390.3,900.3 391.8,899.6 393.4,901.3 394.9,902.4 396.5,902.6 398.0,902.9 399.6,903.6 401.1,902.5 402.6,900.1 404.2,903.1 405.7,898.6 407.3,900.4 408.8,902.3 410.4,898.9 411.9,904.8 413.5,900.4 415.0,899.7 416.6,901.2 418.1,901.3 419.7,902.8 421.2,902.7 422.8,905.0 424.3,903.0 425.9,903.7 427.4,901.8 429.0,904.6 430.5,902.4 432.1,900.5 433.6,906.5 435.1,902.4 436.7,902.4 438.2,902.9 439.8,905.8 441.3,902.1 442.9,904.2 444.4,906.1 446.0,908.6 447.5,904.8 449.1,905.5 450.6,904.0 452.2,909.2 453.7,905.5 455.3,905.8 456.8,906.3 458.4,904.5 459.9,906.2 461.5,904.1 463.0,909.2 464.6,906.3 466.1,906.4 467.6,908.9 469.2,904.7 470.7,909.6 472.3,909.9 473.8,905.9 475.4,908.6 476.9,907.3 478.5,909.1 480.0,907.7 481.6,906.1 483.1,909.0 484.7,907.6 486.2,908.4 487.8,909.9 489.3,910.4 490.9,909.5 492.4,905.9 494.0,909.8 495.5,908.1 497.1,910.7 498.6,908.5 500.1,911.5 501.7,909.9 503.2,909.1 504.8,909.7 506.3,906.1 507.9,910.4 509.4,909.7 511.0,907.6 512.5,910.4 514.1,910.3 515.6,910.5 517.2,909.7 518.7,911.4 520.3,911.6 521.8,910.4 523.4,910.2 524.9,909.6 526.5,909.4 528.0,911.7 529.6,909.7 531.1,908.2 532.6,911.3 534.2,912.9 535.7,910.5 537.3,912.7 538.8,912.1 540.4,909.5 541.9,912.0 543.5,911.3 545.0,912.8 546.6,906.7 548.1,913.3 549.7,913.2 551.2,910.3 552.8,914.0 554.3,911.9 555.9,912.6 557.4,913.9 559.0,914.9 560.5,912.8 562.1,913.9 563.6,913.5 565.1,911.5 566.7,915.9 568.2,914.5 569.8,913.4 571.3,915.2 572.9,914.4 574.4,912.5 576.0,915.4 577.5,913.8 579.1,914.9 580.6,915.7 582.2,915.7 583.7,917.5 585.3,914.6 586.8,914.1 588.4,913.2 589.9,913.4 591.5,915.9 593.0,915.5 594.6,913.3 596.1,913.9 597.6,914.3 599.2,918.0 600.7,913.6 602.3,916.0 603.8,912.5 605.4,915.1 606.9,918.1 608.5,913.4 610.0,917.8 611.6,912.4 613.1,916.0 614.7,914.0 616.2,916.0 617.8,915.7 619.3,917.6 620.9,916.7 622.4,916.6 624.0,915.4 625.5,917.2 627.1,915.0 628.6,915.4 630.1,915.5 631.7,917.7 633.2,920.8 634.8,916.7 636.3,920.3 637.9,915.1 639.4,915.9 641.0,917.9 642.5,918.1 644.1,918.5 645.6,920.0 647.2,916.8 648.7,919.2 650.3,917.8 651.8,912.3 653.4,915.6 654.9,916.5 656.5,917.7 658.0,918.5 659.6,917.1 661.1,920.0 662.6,916.0 664.2,917.7 665.7,919.5 667.3,915.8 668.8,920.2 670.4,919.7 671.9,917.7 673.5,918.0 675.0,917.9 676.6,918.2 678.1,920.4 679.7,919.1 681.2,915.8 682.8,915.5 684.3,919.4 685.9,913.7 687.4,915.6 689.0,917.4 690.5,918.5 692.1,921.0 693.6,918.9 695.1,925.0 696.7,919.1 698.2,920.3 699.8,920.6 701.3,918.6 702.9,920.6 704.4,920.0 706.0,919.4 707.5,917.9 709.1,918.3 710.6,920.5 712.2,919.1 713.7,919.9 715.3,919.9 716.8,919.8 718.4,919.3 719.9,920.4 721.5,920.9 723.0,921.9 724.5,920.4 726.1,918.5 727.6,918.4 729.2,920.8 730.7,916.9 732.3,918.8 733.8,921.6 735.4,919.2 736.9,918.7 738.5,922.1 740.0,915.2 741.6,919.9 743.1,919.2 744.7,919.2 746.2,921.8 747.8,922.9 749.3,922.3 750.9,921.4 752.4,921.0 754.0,920.0 755.5,920.5 757.0,917.6 758.6,919.7 760.1,921.7 761.7,920.5 763.2,922.2 764.8,918.0 766.3,919.9 767.9,919.1 769.4,922.9 771.0,920.6 772.5,920.6 774.1,919.0 775.6,920.3 777.2,919.5 778.7,920.3 780.3,925.3 781.8,919.4 783.4,921.0 784.9,920.0 786.5,924.0 788.0,919.9 789.5,920.2 791.1,922.5 792.6,924.8 794.2,922.3 795.7,921.0 797.3,917.5 798.8,915.6 800.4,922.0 801.9,922.3 803.5,924.4 805.0,923.2 806.6,922.0 808.1,924.8 809.7,925.7 811.2,921.4 812.8,924.3 814.3,924.9 815.9,921.4 817.4,923.9 819.0,922.9 820.5,925.1 822.0,925.1 823.6,919.3 825.1,922.8 826.7,925.7 828.2,924.2 829.8,921.5 831.3,922.6 832.9,921.6 834.4,924.2 836.0,921.3 837.5,925.9 839.1,925.3 840.6,926.9 842.2,925.9 843.7,925.8 845.3,925.7 846.8,925.2 848.4,920.7 849.9,925.3 851.5,923.0 853.0,920.1 854.5,927.3 856.1,924.6 857.6,921.7 859.2,925.3 860.7,925.6 862.3,925.2 863.8,927.6 865.4,923.0 866.9,926.7 868.5,923.4 870.0,926.0 871.6,926.4 873.1,924.5 874.7,929.9 876.2,922.2 877.8,922.9 879.3,924.8 880.9,924.1 882.4,927.8 884.0,924.8 885.5,928.3 887.0,925.1 888.6,927.5 890.1,927.5 891.7,926.4 893.2,927.5 894.8,926.9 896.3,930.2 897.9,930.7 899.4,925.9 901.0,927.5 902.5,928.7 904.1,927.7 905.6,930.3 907.2,931.6 908.7,923.4 910.3,926.0 911.8,929.5 913.4,928.1 914.9,925.9 916.5,926.8"/>
<polyline fill="none" stroke="#55A868" stroke-width="2.1" stroke-linejoin="round" stroke-linecap="square" points="144.2,668.0 145.7,708.1 147.3,741.6 148.8,767.0 150.4,784.8 151.9,795.1 153.5,800.7 155.0,802.3 156.6,802.2 158.1,804.2 159.7,805.9 161.2,808.1 162.8,810.4 164.3,810.5 165.9,810.7 167.4,812.6 169.0,812.8 170.5,814.0 172.1,813.9 173.6,814.1 175.2,817.3 176.7,816.4 178.2,817.5 179.8,817.4 181.3,818.0 182.9,818.8 184.4,820.3 186.0,821.4 187.5,821.2 189.1,820.5 190.6,824.3 192.2,822.7 193.7,823.2 195.3,822.1 196.8,822.8 198.4,823.9 199.9,821.9 201.5,823.2 203.0,824.6 204.6,826.9 206.1,825.2 207.7,824.0 209.2,824.0 210.7,826.4 212.3,824.8 213.8,825.5 215.4,828.0 216.9,826.3 218.5,826.0 220.0,825.8 221.6,828.0 223.1,828.2 224.7,826.4 226.2,825.8 227.8,827.2 229.3,828.9 230.9,828.1 232.4,826.6 234.0,828.2 235.5,828.8 237.1,828.1 238.6,828.5 240.2,828.4 241.7,828.1 243.2,828.0 244.8,827.5 246.3,827.7 247.9,827.3 249.4,829.6 251.0,829.8 252.5,829.5 254.1,829.9 255.6,829.7 257.2,829.0 258.7,830.0 260.3,829.6 261.8,829.8 263.4,828.0 264.9,829.7 266.5,830.7 268.0,830.1 269.6,829.6 271.1,829.0 272.7,830.0 274.2,832.2 275.7,830.2 277.3,832.0 278.8,830.6 280.4,832.2 281.9,830.7 283.5,831.7 285.0,832.1 286.6,832.1 288.1,830.6 289.7,831.3 291.2,830.9 292.8,831.7 294.3,831.6 295.9,831.8 297.4,832.7 299.0,831.1 300.5,831.5 302.1,831.8 303.6,832.2 305.2,831.7 306.7,833.1 308.2,831.6 309.8,834.5 311.3,832.9 312.9,834.1 314.4,831.9 316.0,832.8 317.5,833.3 319.1,835.0 320.6,833.5 322.2,834.9 323.7,832.8 325.3,835.1 326.8,833.0 328.4,832.0 329.9,831.9 331.5,834.1 333.0,833.8 334.6,834.3 336.1,834.1 337.6,834.7 339.2,835.9 340.7,834.2 342.3,834.7 343.8,834.1 345.4,832.8 346.9,834.4 348.5,836.2 350.0,834.0 351.6,837.2 353.1,835.5 354.7,835.4 356.2,836.0 357.8,835.1 359.3,835.2 360.9,836.6 362.4,834.6 364.0,835.2 365.5,834.3 367.1,835.6 368.6,838.6 370.1,836.8 371.7,834.7 373.2,834.0 374.8,836.3 376.3,836.5 377.9,835.3 379.4,837.3 381.0,836.4 382.5,836.8 384.1,836.9 385.6,837.2 387.2,835.7 388.7,835.5 390.3,837.6 391.8,836.2 393.4,835.2 394.9,836.8 396.5,836.0 398.0,836.8 399.6,839.7 401.1,838.4 402.6,836.2 404.2,835.4 405.7,836.7 407.3,835.8 408.8,837.0 410.4,837.1 411.9,837.5 413.5,836.8 415.0,835.5 416.6,836.8 418.1,837.0 419.7,837.2 421.2,838.2 422.8,836.0 424.3,836.9 425.9,836.5 427.4,836.3 429.0,837.7 430.5,836.5 432.1,839.1 433.6,834.7 435.1,838.7 436.7,837.0 438.2,836.0 439.8,837.5 441.3,837.4 442.9,838.3 444.4,838.6 446.0,836.6 447.5,837.4 449.1,837.8 450.6,837.7 452.2,837.2 453.7,838.9 455.3,837.9 456.8,836.3 458.4,838.0 459.9,837.5 461.5,837.5 463.0,838.6 464.6,838.5 466.1,838.2 467.6,838.4 469.2,838.9 470.7,837.4 472.3,838.2 473.8,839.4 475.4,837.6 476.9,837.8 478.5,837.7 480.0,839.4 481.6,837.9 483.1,839.5 484.7,838.1 486.2,838.7 487.8,838.9 489.3,838.1 490.9,837.7 492.4,839.7 494.0,838.4 495.5,839.4 497.1,839.5 498.6,837.5 500.1,840.2 501.7,839.2 503.2,838.8 504.8,838.8 506.3,838.7 507.9,839.5 509.4,841.4 511.0,839.3 512.5,838.3 514.1,839.2 515.6,841.6 517.2,839.7 518.7,841.6 520.3,838.9 521.8,838.9 523.4,838.6 524.9,838.9 526.5,839.8 528.0,840.0 529.6,838.2 531.1,838.9 532.6,839.2 534.2,839.6 535.7,841.4 537.3,841.6 538.8,840.5 540.4,840.9 541.9,839.3 543.5,840.5 545.0,838.4 546.6,840.2 548.1,840.5 549.7,841.1 551.2,840.2 552.8,840.2 554.3,839.3 555.9,838.1 557.4,839.7 559.0,838.4 560.5,840.0 562.1,840.1 563.6,839.0 565.1,838.6 566.7,840.3 568.2,839.9 569.8,840.9 571.3,841.4 572.9,842.1 574.4,841.5 576.0,839.6 577.5,840.5 579.1,842.7 580.6,839.7 582.2,840.3 583.7,842.0 585.3,841.3 586.8,840.1 588.4,841.1 589.9,840.1 591.5,841.6 593.0,840.6 594.6,840.8 596.1,841.0 597.6,838.8 599.2,840.7 600.7,841.2 602.3,840.9 603.8,840.3 605.4,840.8 606.9,842.4 608.5,841.6 610.0,840.3 611.6,842.0 613.1,841.3 614.7,840.5 616.2,839.2 617.8,841.6 619.3,839.9 620.9,841.4 622.4,842.1 624.0,841.7 625.5,839.8 627.1,840.1 628.6,841.7 630.1,842.2 631.7,841.1 633.2,841.0 634.8,843.0 636.3,842.8 637.9,841.4 639.4,840.8 641.0,841.8 642.5,840.0 644.1,841.4 645.6,841.5 647.2,842.5 648.7,841.8 650.3,839.4 651.8,843.1 653.4,841.8 654.9,839.3 656.5,839.7 658.0,842.0 659.6,840.0 661.1,842.1 662.6,840.2 664.2,839.7 665.7,842.9 667.3,843.1 668.8,841.0 670.4,843.0 671.9,841.7 673.5,841.9 675.0,841.2 676.6,842.1 678.1,842.9 679.7,842.9 681.2,843.5 682.8,843.3 684.3,842.2 685.9,841.0 687.4,842.4 689.0,842.2 690.5,841.1 692.1,840.4 693.6,840.8 695.1,840.0 696.7,840.7 698.2,841.8 699.8,842.9 701.3,841.7 702.9,841.1 704.4,841.2 706.0,841.5 707.5,842.9 709.1,841.7 710.6,839.8 712.2,841.6 713.7,839.9 715.3,840.9 716.8,841.7 718.4,840.7 719.9,841.5 721.5,842.8 723.0,840.8 724.5,842.7 726.1,842.5 727.6,842.3 729.2,840.8 730.7,842.7 732.3,842.0 733.8,842.4 735.4,841.7 736.9,843.0 738.5,840.3 740.0,842.1 741.6,842.5 743.1,844.5 744.7,840.2 746.2,840.5 747.8,841.5 749.3,842.0 750.9,840.9 752.4,842.5 754.0,841.5 755.5,841.8 757.0,840.4 758.6,842.1 760.1,841.8 761.7,843.2 763.2,842.5 764.8,843.2 766.3,842.1 767.9,841.0 769.4,842.5 771.0,840.3 772.5,840.4 774.1,841.1 775.6,842.6 777.2,842.8 778.7,840.1 780.3,841.5 781.8,843.0 783.4,841.4 784.9,840.2 786.5,841.9 788.0,843.2 789.5,841.2 791.1,841.3 792.6,843.9 794.2,842.6 795.7,840.8 797.3,842.8 798.8,843.2 800.4,841.7 801.9,842.2 803.5,842.9 805.0,842.4 806.6,843.6 808.1,843.4 809.7,843.0 811.2,843.7 812.8,841.8 814.3,841.4 815.9,840.8 817.4,841.6 819.0,841.1 820.5,842.0 822.0,843.2 823.6,843.8 825.1,843.0 826.7,842.9 828.2,842.6 829.8,842.9 831.3,841.9 832.9,841.8 834.4,841.2 836.0,842.1 837.5,842.8 839.1,842.3 840.6,842.6 842.2,844.4 843.7,842.9 845.3,843.1 846.8,842.5 848.4,843.1 849.9,841.5 851.5,843.1 853.0,843.2 854.5,843.5 856.1,841.1 857.6,842.3 859.2,843.9 860.7,843.3 862.3,841.2 863.8,841.7 865.4,841.4 866.9,843.0 868.5,843.4 870.0,842.3 871.6,840.9 873.1,842.7 874.7,840.6 876.2,843.6 877.8,841.7 879.3,841.6 880.9,841.5 882.4,842.6 884.0,842.7 885.5,843.0 887.0,842.5 888.6,842.6 890.1,843.7 891.7,844.1 893.2,843.0 894.8,843.3 896.3,843.6 897.9,842.6 899.4,842.3 901.0,841.5 902.5,842.4 904.1,844.5 905.6,842.2 907.2,841.7 908.7,842.8 910.3,843.2 911.8,843.4 913.4,842.1 914.9,843.5 916.5,842.6"/>
<polyline fill="none" stroke="#C44E52" stroke-width="2.1" stroke-linejoin="round" stroke-linecap="square" points="144.2,668.0 145.7,769.9 147.3,800.1 148.8,815.0 150.4,820.0 151.9,824.6 153.5,827.9 155.0,832.3 156.6,836.7 158.1,838.5 159.7,839.7 161.2,841.9 162.8,845.5 164.3,844.3 165.9,847.5 167.4,848.8 169.0,848.1 170.5,850.4 172.1,851.6 173.6,850.8 175.2,851.7 176.7,853.4 178.2,851.8 179.8,852.7 181.3,855.2 182.9,854.6 184.4,853.4 186.0,855.3 187.5,857.8 189.1,854.4 190.6,857.4 192.2,857.7 193.7,857.0 195.3,858.3 196.8,857.3 198.4,860.1 199.9,860.7 201.5,858.2 203.0,859.4 204.6,860.1 206.1,859.7 207.7,861.2 209.2,860.0 210.7,862.2 212.3,861.6 213.8,862.2 215.4,863.1 216.9,864.0 218.5,862.2 220.0,864.5 221.6,864.9 223.1,864.1 224.7,866.2 226.2,864.0 227.8,864.5 229.3,865.8 230.9,864.9 232.4,867.4 234.0,866.4 235.5,868.3 237.1,865.5 238.6,865.8 240.2,868.5 241.7,866.1 243.2,868.7 244.8,866.8 246.3,868.1 247.9,869.3 249.4,868.1 251.0,867.1 252.5,868.0 254.1,870.0 255.6,869.1 257.2,869.8 258.7,869.3 260.3,869.6 261.8,869.3 263.4,868.5 264.9,870.4 266.5,870.1 268.0,867.9 269.6,870.2 271.1,871.4 272.7,872.6 274.2,869.1 275.7,870.9 277.3,871.5 278.8,871.8 280.4,870.4 281.9,871.8 283.5,870.9 285.0,871.5 286.6,871.1 288.1,872.1 289.7,871.5 291.2,872.4 292.8,872.1 294.3,873.3 295.9,874.3 297.4,872.5 299.0,871.9 300.5,872.6 302.1,872.4 303.6,871.3 305.2,873.3 306.7,872.9 308.2,874.5 309.8,873.5 311.3,874.8 312.9,874.8 314.4,873.6 316.0,873.9 317.5,873.8 319.1,874.0 320.6,875.6 322.2,874.3 323.7,874.5 325.3,874.2 326.8,876.8 328.4,875.0 329.9,875.4 331.5,874.7 333.0,876.1 334.6,875.1 336.1,875.4 337.6,874.0 339.2,874.5 340.7,876.7 342.3,877.5 343.8,874.9 345.4,877.1 346.9,877.2 348.5,880.5 350.0,876.2 351.6,876.6 353.1,876.3 354.7,878.5 356.2,878.9 357.8,877.6 359.3,879.6 360.9,880.4 362.4,877.7 364.0,878.9 365.5,878.2 367.1,877.8 368.6,878.1 370.1,878.5 371.7,877.4 373.2,878.8 374.8,879.9 376.3,878.1 377.9,878.6 379.4,878.3 381.0,879.8 382.5,879.4 384.1,880.6 385.6,879.3 387.2,878.1 388.7,880.4 390.3,879.5 391.8,881.2 393.4,880.8 394.9,877.2 396.5,878.0 398.0,880.2 399.6,879.4 401.1,877.8 402.6,879.8 404.2,881.8 405.7,881.2 407.3,879.5 408.8,880.9 410.4,881.7 411.9,880.4 413.5,882.6 415.0,880.0 416.6,883.1 418.1,882.5 419.7,881.4 421.2,881.1 422.8,881.0 424.3,879.9 425.9,882.1 427.4,882.4 429.0,882.0 430.5,881.4 432.1,881.3 433.6,880.2 435.1,880.5 436.7,879.7 438.2,881.9 439.8,880.4 441.3,882.3 442.9,880.7 444.4,883.1 446.0,883.3 447.5,883.3 449.1,882.9 450.6,881.4 452.2,881.4 453.7,881.0 455.3,882.2 456.8,883.8 458.4,880.8 459.9,884.7 461.5,881.5 463.0,880.9 464.6,882.6 466.1,883.5 467.6,882.0 469.2,881.3 470.7,884.5 472.3,881.4 473.8,883.8 475.4,883.0 476.9,882.5 478.5,883.0 480.0,881.9 481.6,881.9 483.1,883.6 484.7,882.2 486.2,882.6 487.8,885.1 489.3,885.6 490.9,884.9 492.4,884.8 494.0,883.6 495.5,884.1 497.1,883.2 498.6,881.0 500.1,884.4 501.7,884.6 503.2,885.5 504.8,883.2 506.3,885.8 507.9,884.1 509.4,883.4 511.0,884.6 512.5,885.9 514.1,885.0 515.6,885.6 517.2,884.2 518.7,885.8 520.3,886.4 521.8,884.4 523.4,885.9 524.9,884.1 526.5,885.9 528.0,884.1 529.6,886.2 531.1,885.8 532.6,884.7 534.2,886.4 535.7,885.0 537.3,886.2 538.8,885.2 540.4,886.8 541.9,885.7 543.5,887.9 545.0,886.9 546.6,887.1 548.1,885.0 549.7,884.3 551.2,885.7 552.8,888.6 554.3,885.7 555.9,888.1 557.4,888.2 559.0,886.2 560.5,886.6 562.1,888.3 563.6,886.6 565.1,886.5 566.7,886.3 568.2,887.1 569.8,886.9 571.3,888.4 572.9,887.3 574.4,888.4 576.0,887.0 577.5,889.9 579.1,887.0 580.6,887.0 582.2,886.3 583.7,885.4 585.3,886.3 586.8,887.5 588.4,886.2 589.9,888.2 591.5,885.6 593.0,885.5 594.6,887.7 596.1,887.8 597.6,886.2 599.2,888.6 600.7,889.0 602.3,887.9 603.8,886.1 605.4,888.9 606.9,887.3 608.5,887.4 610.0,888.2 611.6,886.9 613.1,889.3 614.7,887.0 616.2,888.9 617.8,888.6 619.3,889.7 620.9,888.4 622.4,888.8 624.0,887.4 625.5,887.6 627.1,887.3 628.6,888.8 630.1,887.3 631.7,889.7 633.2,887.9 634.8,886.7 636.3,887.3 637.9,889.4 639.4,887.6 641.0,888.8 642.5,886.4 644.1,888.7 645.6,889.1 647.2,888.8 648.7,889.1 650.3,887.2 651.8,886.5 653.4,886.9 654.9,889.3 656.5,888.8 658.0,889.3 659.6,887.8 661.1,889.4 662.6,886.8 664.2,889.0 665.7,887.4 667.3,888.1 668.8,889.3 670.4,889.6 671.9,888.5 673.5,888.3 675.0,890.2 676.6,889.9 678.1,888.0 679.7,889.1 681.2,888.6 682.8,889.9 684.3,889.4 685.9,889.4 687.4,889.0 689.0,888.4 690.5,890.2 692.1,889.5 693.6,886.5 695.1,888.6 696.7,889.4 698.2,888.3 699.8,888.1 701.3,888.5 702.9,889.6 704.4,888.2 706.0,889.6 707.5,890.7 709.1,890.3 710.6,890.4 712.2,889.1 713.7,890.6 715.3,889.4 716.8,890.4 718.4,888.2 719.9,890.8 721.5,888.8 723.0,889.5 724.5,890.7 726.1,889.6 727.6,889.1 729.2,889.4 730.7,890.8 732.3,890.9 733.8,890.4 735.4,889.0 736.9,889.3 738.5,890.5 740.0,890.6 741.6,889.0 743.1,889.1 744.7,890.6 746.2,891.1 747.8,890.0 749.3,888.6 750.9,891.7 752.4,890.0 754.0,890.5 755.5,887.7 757.0,889.3 758.6,889.9 760.1,890.5 761.7,889.2 763.2,888.5 764.8,888.4 766.3,889.8 767.9,890.5 769.4,890.5 771.0,888.4 772.5,889.5 774.1,890.2 775.6,891.4 777.2,891.0 778.7,890.7 780.3,888.6 781.8,891.7 783.4,890.4 784.9,890.8 786.5,889.8 788.0,890.4 789.5,890.3 791.1,890.2 792.6,889.7 794.2,891.5 795.7,891.8 797.3,890.2 798.8,889.9 800.4,890.0 801.9,890.6 803.5,892.5 805.0,890.8 806.6,893.0 808.1,889.7 809.7,889.9 811.2,890.3 812.8,890.3 814.3,891.6 815.9,893.2 817.4,890.5 819.0,891.7 820.5,892.8 822.0,894.0 823.6,891.7 825.1,892.6 826.7,893.0 828.2,891.7 829.8,892.2 831.3,891.3 832.9,890.8 834.4,891.1 836.0,893.1 837.5,893.3 839.1,892.2 840.6,890.6 842.2,893.3 843.7,892.0 845.3,893.7 846.8,892.2 848.4,890.9 849.9,891.9 851.5,891.5 853.0,894.0 854.5,889.8 856.1,891.7 857.6,892.1 859.2,890.2 860.7,892.9 862.3,893.2 863.8,893.5 865.4,893.5 866.9,892.5 868.5,893.7 870.0,892.3 871.6,892.8 873.1,893.1 874.7,892.9 876.2,893.5 877.8,892.2 879.3,892.9 880.9,892.4 882.4,893.2 884.0,893.5 885.5,892.4 887.0,894.8 888.6,895.4 890.1,893.9 891.7,893.4 893.2,892.7 894.8,893.3 896.3,893.2 897.9,894.3 899.4,893.6 901.0,894.4 902.5,894.3 904.1,893.2 905.6,892.3 907.2,892.5 908.7,892.7 910.3,893.8 911.8,895.2 913.4,893.0 914.9,894.7 916.5,893.9"/>
<polyline fill="none" stroke="#8172B3" stroke-width="2.1" stroke-linejoin="round" stroke-linecap="square" points="144.2,668.0 145.7,794.9 147.3,810.6 148.8,819.1 150.4,833.5 151.9,839.1 153.5,842.7 155.0,845.3 156.6,847.1 158.1,848.1 159.7,851.3 161.2,852.8 162.8,853.5 164.3,854.0 165.9,855.1 167.4,856.3 169.0,859.4 170.5,859.9 172.1,862.9 173.6,861.7 175.2,865.2 176.7,865.4 178.2,865.7 179.8,869.0 181.3,868.8 182.9,870.6 184.4,871.9 186.0,871.8 187.5,871.2 189.1,872.8 190.6,874.6 192.2,872.8 193.7,875.0 195.3,874.3 196.8,874.3 198.4,874.6 199.9,874.2 201.5,875.6 203.0,876.8 204.6,873.7 206.1,876.2 207.7,877.3 209.2,876.6 210.7,878.4 212.3,876.5 213.8,878.8 215.4,879.1 216.9,878.7 218.5,877.3 220.0,881.0 221.6,878.3 223.1,879.6 224.7,877.7 226.2,878.3 227.8,880.0 229.3,877.7 230.9,880.4 232.4,882.4 234.0,878.2 235.5,880.0 237.1,881.8 238.6,880.3 240.2,882.2 241.7,881.5 243.2,879.1 244.8,878.1 246.3,881.6 247.9,883.5 249.4,881.3 251.0,884.4 252.5,880.7 254.1,884.1 255.6,883.2 257.2,883.6 258.7,883.5 260.3,883.3 261.8,884.4 263.4,883.2 264.9,886.3 266.5,883.7 268.0,886.4 269.6,884.3 271.1,884.2 272.7,887.2 274.2,887.1 275.7,886.9 277.3,889.5 278.8,886.2 280.4,888.8 281.9,888.2 283.5,890.4 285.0,886.7 286.6,887.9 288.1,887.9 289.7,887.6 291.2,886.9 292.8,888.9 294.3,889.0 295.9,888.3 297.4,889.5 299.0,887.6 300.5,892.1 302.1,891.0 303.6,890.8 305.2,891.7 306.7,890.4 308.2,890.1 309.8,890.4 311.3,890.3 312.9,890.9 314.4,893.2 316.0,891.2 317.5,894.0 319.1,892.8 320.6,895.0 322.2,891.8 323.7,891.7 325.3,892.0 326.8,890.0 328.4,894.2 329.9,894.0 331.5,893.7 333.0,893.8 334.6,895.1 336.1,892.7 337.6,894.6 339.2,894.8 340.7,895.5 342.3,896.6 343.8,895.4 345.4,893.8 346.9,895.7 348.5,894.8 350.0,895.4 351.6,894.0 353.1,895.1 354.7,895.6 356.2,895.4 357.8,896.6 359.3,898.6 360.9,896.1 362.4,895.0 364.0,895.9 365.5,898.0 367.1,896.7 368.6,898.1 370.1,897.1 371.7,898.3 373.2,896.4 374.8,898.9 376.3,897.5 377.9,898.1 379.4,899.3 381.0,894.4 382.5,899.5 384.1,901.0 385.6,897.5 387.2,897.1 388.7,897.6 390.3,898.9 391.8,897.9 393.4,896.4 394.9,896.8 396.5,895.9 398.0,897.3 399.6,897.0 401.1,896.1 402.6,898.9 404.2,898.3 405.7,899.3 407.3,895.6 408.8,899.9 410.4,900.8 411.9,898.0 413.5,896.7 415.0,895.9 416.6,900.1 418.1,898.7 419.7,899.4 421.2,898.6 422.8,896.6 424.3,898.2 425.9,898.9 427.4,897.8 429.0,899.5 430.5,898.1 432.1,900.4 433.6,896.4 435.1,899.8 436.7,899.3 438.2,900.6 439.8,901.3 441.3,900.3 442.9,899.9 444.4,898.7 446.0,901.1 447.5,899.8 449.1,900.3 450.6,899.7 452.2,900.1 453.7,899.0 455.3,903.6 456.8,900.3 458.4,899.6 459.9,899.6 461.5,900.7 463.0,899.7 464.6,901.4 466.1,900.5 467.6,900.9 469.2,902.1 470.7,901.1 472.3,901.2 473.8,901.5 475.4,902.7 476.9,900.7 478.5,902.6 480.0,902.0 481.6,901.7 483.1,899.4 484.7,901.4 486.2,899.3 487.8,900.4 489.3,900.9 490.9,900.7 492.4,899.5 494.0,902.8 495.5,901.2 497.1,903.5 498.6,901.7 500.1,899.2 501.7,903.8 503.2,903.2 504.8,904.2 506.3,901.5 507.9,899.1 509.4,902.3 511.0,900.6 512.5,900.9 514.1,900.7 515.6,900.6 517.2,903.8 518.7,900.8 520.3,899.3 521.8,905.0 523.4,901.5 524.9,901.0 526.5,903.9 528.0,903.1 529.6,900.5 531.1,904.2 532.6,904.1 534.2,903.5 535.7,900.5 537.3,903.1 538.8,900.5 540.4,903.5 541.9,904.1 543.5,904.6 545.0,902.2 546.6,905.5 548.1,903.3 549.7,903.2 551.2,902.6 552.8,904.4 554.3,904.7 555.9,903.8 557.4,902.9 559.0,905.9 560.5,904.5 562.1,905.4 563.6,905.1 565.1,904.5 566.7,903.5 568.2,903.7 569.8,904.1 571.3,901.1 572.9,903.8 574.4,906.1 576.0,905.0 577.5,903.0 579.1,905.7 580.6,904.6 582.2,906.7 583.7,905.0 585.3,904.2 586.8,905.7 588.4,905.2 589.9,906.5 591.5,904.9 593.0,907.5 594.6,905.5 596.1,904.1 597.6,905.1 599.2,905.5 600.7,907.3 602.3,906.7 603.8,906.1 605.4,907.4 606.9,906.8 608.5,907.6 610.0,905.8 611.6,908.4 613.1,903.6 614.7,904.5 616.2,906.4 617.8,907.5 619.3,908.4 620.9,906.8 622.4,906.6 624.0,907.0 625.5,906.8 627.1,906.5 628.6,904.8 630.1,905.4 631.7,906.5 633.2,904.5 634.8,906.4 636.3,907.9 637.9,906.0 639.4,905.1 641.0,904.5 642.5,905.4 644.1,906.7 645.6,907.7 647.2,906.4 648.7,907.2 650.3,907.3 651.8,906.2 653.4,905.5 654.9,908.5 656.5,907.4 658.0,908.5 659.6,905.9 661.1,906.1 662.6,906.9 664.2,906.0 665.7,905.0 667.3,905.6 668.8,904.9 670.4,906.2 671.9,903.8 673.5,907.3 675.0,907.6 676.6,903.9 678.1,906.0 679.7,906.6 681.2,904.9 682.8,906.6 684.3,907.2 685.9,905.8 687.4,907.8 689.0,906.8 690.5,905.0 692.1,905.4 693.6,908.4 695.1,908.6 696.7,907.0 698.2,908.6 699.8,904.9 701.3,909.1 702.9,909.1 704.4,906.3 706.0,906.6 707.5,905.3 709.1,910.8 710.6,906.8 712.2,906.4 713.7,905.7 715.3,906.0 716.8,906.0 718.4,908.2 719.9,907.7 721.5,905.7 723.0,907.1 724.5,905.8 726.1,907.1 727.6,903.0 729.2,909.3 730.7,907.3 732.3,905.7 733.8,908.2 735.4,907.1 736.9,906.5 738.5,909.4 740.0,907.4 741.6,908.0 743.1,908.8 744.7,907.6 746.2,907.0 747.8,906.8 749.3,905.5 750.9,908.1 752.4,904.5 754.0,908.1 755.5,908.5 757.0,908.0 758.6,907.1 760.1,905.9 761.7,907.7 763.2,908.9 764.8,908.0 766.3,908.4 767.9,906.2 769.4,906.3 771.0,907.9 772.5,904.4 774.1,906.2 775.6,905.1 777.2,904.9 778.7,908.1 780.3,908.5 781.8,907.5 783.4,906.9 784.9,905.8 786.5,907.3 788.0,906.4 789.5,908.6 791.1,905.4 792.6,906.6 794.2,909.5 795.7,906.0 797.3,908.3 798.8,906.9 800.4,903.1 801.9,907.7 803.5,907.7 805.0,905.8 806.6,908.1 808.1,909.3 809.7,907.5 811.2,908.3 812.8,906.5 814.3,909.8 815.9,907.7 817.4,908.0 819.0,906.2 820.5,907.1 822.0,909.5 823.6,908.5 825.1,906.8 826.7,905.5 828.2,905.2 829.8,909.0 831.3,906.8 832.9,907.8 834.4,910.6 836.0,906.4 837.5,907.2 839.1,909.8 840.6,908.6 842.2,909.9 843.7,909.9 845.3,907.6 846.8,907.9 848.4,909.7 849.9,908.8 851.5,908.3 853.0,910.0 854.5,909.3 856.1,905.9 857.6,911.6 859.2,910.6 860.7,907.6 862.3,910.2 863.8,908.0 865.4,905.5 866.9,909.2 868.5,910.2 870.0,911.0 871.6,907.5 873.1,910.3 874.7,908.8 876.2,909.7 877.8,909.0 879.3,909.4 880.9,907.3 882.4,910.5 884.0,908.7 885.5,910.1 887.0,908.6 888.6,910.4 890.1,910.6 891.7,909.5 893.2,908.4 894.8,908.8 896.3,910.0 897.9,911.3 899.4,910.0 901.0,909.9 902.5,910.9 904.1,907.2 905.6,909.4 907.2,911.0 908.7,910.4 910.3,910.4 911.8,911.2 913.4,908.0 914.9,910.7 916.5,910.4"/>
<polyline fill="none" stroke="#937860" stroke-width="2.1" stroke-linejoin="round" stroke-linecap="square" points="144.2,668.0 145.7,700.1 147.3,727.9 148.8,755.7 150.4,775.8 151.9,784.1 153.5,789.2 155.0,794.0 156.6,797.3 158.1,799.5 159.7,800.3 161.2,800.3 162.8,805.5 164.3,804.6 165.9,806.2 167.4,806.4 169.0,807.5 170.5,810.2 172.1,811.6 173.6,810.6 175.2,811.8 176.7,812.4 178.2,812.8 179.8,813.7 181.3,815.1 182.9,814.1 184.4,818.6 186.0,815.5 187.5,817.1 189.1,819.7 190.6,818.0 192.2,818.9 193.7,819.8 195.3,821.3 196.8,819.0 198.4,821.7 199.9,819.4 201.5,822.7 203.0,822.2 204.6,821.8 206.1,821.1 207.7,823.2 209.2,822.7 210.7,823.2 212.3,820.8 213.8,822.2 215.4,822.7 216.9,823.1 218.5,820.9 220.0,821.0 221.6,823.3 223.1,822.5 224.7,823.2 226.2,821.9 227.8,823.3 229.3,822.4 230.9,822.2 232.4,822.3 234.0,823.9 235.5,822.0 237.1,822.0 238.6,823.0 240.2,824.3 241.7,824.8 243.2,825.0 244.8,825.4 246.3,824.1 247.9,824.3 249.4,826.5 251.0,824.9 252.5,825.6 254.1,824.5 255.6,826.0 257.2,824.5 258.7,825.4 260.3,825.8 261.8,826.0 263.4,827.0 264.9,827.4 266.5,827.7 268.0,827.0 269.6,826.5 271.1,827.1 272.7,826.9 274.2,826.7 275.7,829.4 277.3,826.7 278.8,828.7 280.4,827.7 281.9,826.5 283.5,830.5 285.0,828.2 286.6,827.6 288.1,831.2 289.7,828.7 291.2,829.2 292.8,830.8 294.3,828.4 295.9,828.5 297.4,830.3 299.0,830.1 300.5,829.0 302.1,828.4 303.6,828.6 305.2,830.7 306.7,831.6 308.2,831.6 309.8,830.9 311.3,831.0 312.9,828.4 314.4,830.8 316.0,830.3 317.5,832.4 319.1,830.8 320.6,831.3 322.2,831.4 323.7,831.8 325.3,832.0 326.8,833.7 328.4,833.1 329.9,832.1 331.5,831.0 333.0,833.6 334.6,832.8 336.1,832.1 337.6,831.5 339.2,831.2 340.7,833.3 342.3,833.4 343.8,832.5 345.4,832.5 346.9,834.4 348.5,833.2 350.0,832.5 351.6,832.1 353.1,833.8 354.7,833.8 356.2,831.9 357.8,830.8 359.3,833.8 360.9,833.9 362.4,834.3 364.0,834.1 365.5,831.6 367.1,834.6 368.6,833.1 370.1,835.1 371.7,834.0 373.2,833.4 374.8,832.6 376.3,833.3 377.9,834.3 379.4,833.8 381.0,835.3 382.5,834.1 384.1,834.5 385.6,833.5 387.2,833.6 388.7,833.8 390.3,833.4 391.8,835.5 393.4,836.1 394.9,834.0 396.5,834.3 398.0,836.0 399.6,835.4 401.1,835.6 402.6,833.8 404.2,836.9 405.7,835.4 407.3,835.5 408.8,834.9 410.4,835.1 411.9,835.2 413.5,835.1 415.0,835.7 416.6,836.3 418.1,834.9 419.7,835.4 421.2,836.4 422.8,836.2 424.3,839.0 425.9,834.9 427.4,836.6 429.0,835.6 430.5,835.8 432.1,835.9 433.6,836.0 435.1,836.9 436.7,836.5 438.2,837.2 439.8,839.2 441.3,837.4 442.9,836.3 444.4,837.8 446.0,833.6 447.5,838.0 449.1,838.5 450.6,836.8 452.2,837.1 453.7,836.6 455.3,835.8 456.8,837.6 458.4,837.4 459.9,836.5 461.5,838.3 463.0,836.1 464.6,838.2 466.1,838.0 467.6,837.8 469.2,837.8 470.7,837.7 472.3,836.1 473.8,835.2 475.4,837.5 476.9,839.1 478.5,837.8 480.0,838.1 481.6,838.1 483.1,838.2 484.7,838.2 486.2,838.5 487.8,835.9 489.3,838.1 490.9,836.5 492.4,839.1 494.0,836.5 495.5,837.4 497.1,838.8 498.6,837.9 500.1,838.7 501.7,837.2 503.2,840.9 504.8,838.3 506.3,837.2 507.9,839.4 509.4,837.9 511.0,838.7 512.5,838.5 514.1,839.0 515.6,838.7 517.2,840.4 518.7,839.9 520.3,838.0 521.8,839.7 523.4,838.7 524.9,838.8 526.5,838.6 528.0,837.8 529.6,839.7 531.1,838.4 532.6,839.4 534.2,840.5 535.7,838.1 537.3,839.1 538.8,839.4 540.4,838.9 541.9,839.0 543.5,838.6 545.0,837.5 546.6,839.5 548.1,841.6 549.7,838.7 551.2,840.0 552.8,839.8 554.3,839.0 555.9,839.4 557.4,840.6 559.0,839.7 560.5,839.7 562.1,840.6 563.6,839.4 565.1,838.8 566.7,839.6 568.2,839.4 569.8,839.9 571.3,842.4 572.9,839.1 574.4,839.2 576.0,840.9 577.5,841.2 579.1,839.5 580.6,839.9 582.2,839.2 583.7,841.1 585.3,840.1 586.8,840.5 588.4,839.3 589.9,840.5 591.5,840.1 593.0,840.5 594.6,840.6 596.1,838.4 597.6,839.0 599.2,842.3 600.7,840.5 602.3,841.3 603.8,840.6 605.4,840.4 606.9,841.3 608.5,840.3 610.0,840.7 611.6,841.2 613.1,839.7 614.7,841.7 616.2,839.9 617.8,838.8 619.3,839.5 620.9,840.7 622.4,842.8 624.0,840.5 625.5,840.8 627.1,840.3 628.6,841.8 630.1,841.8 631.7,842.0 633.2,841.6 634.8,839.9 636.3,841.3 637.9,840.4 639.4,841.4 641.0,840.8 642.5,840.7 644.1,841.7 645.6,841.2 647.2,842.0 648.7,842.2 650.3,840.5 651.8,842.3 653.4,844.4 654.9,842.7 656.5,841.2 658.0,843.0 659.6,843.2 661.1,842.0 662.6,841.3 664.2,841.2 665.7,842.0 667.3,841.7 668.8,841.7 670.4,842.5 671.9,843.3 673.5,842.4 675.0,841.6 676.6,842.5 678.1,841.1 679.7,841.0 681.2,842.5 682.8,842.6 684.3,842.9 685.9,841.4 687.4,842.9 689.0,841.2 690.5,842.7 692.1,841.1 693.6,843.0 695.1,842.9 696.7,842.3 698.2,843.6 699.8,843.8 701.3,844.1 702.9,843.6 704.4,844.0 706.0,841.9 707.5,844.7 709.1,843.6 710.6,842.2 712.2,843.3 713.7,842.5 715.3,843.8 716.8,843.8 718.4,843.6 719.9,842.2 721.5,843.2 723.0,844.9 724.5,844.4 726.1,843.0 727.6,842.2 729.2,843.2 730.7,844.3 732.3,843.8 733.8,844.7 735.4,844.2 736.9,842.5 738.5,843.9 740.0,842.2 741.6,843.7 743.1,844.2 744.7,844.4 746.2,844.3 747.8,844.4 749.3,844.1 750.9,844.3 752.4,842.5 754.0,844.2 755.5,843.8 757.0,843.8 758.6,845.4 760.1,844.6 761.7,843.5 763.2,844.7 764.8,842.6 766.3,844.3 767.9,842.4 769.4,844.9 771.0,845.8 772.5,844.1 774.1,843.4 775.6,842.3 777.2,844.7 778.7,843.8 780.3,844.0 781.8,844.6 783.4,843.3 784.9,844.6 786.5,846.1 788.0,843.6 789.5,844.1 791.1,844.9 792.6,844.7 794.2,843.4 795.7,843.8 797.3,843.1 798.8,844.8 800.4,842.1 801.9,844.1 803.5,843.0 805.0,843.4 806.6,842.6 808.1,844.4 809.7,845.6 811.2,845.6 812.8,843.1 814.3,845.4 815.9,845.1 817.4,845.0 819.0,845.4 820.5,845.3 822.0,841.7 823.6,845.8 825.1,845.2 826.7,844.0 828.2,843.3 829.8,844.2 831.3,845.3 832.9,845.6 834.4,844.4 836.0,845.2 837.5,844.8 839.1,845.7 840.6,843.9 842.2,846.0 843.7,846.5 845.3,846.9 846.8,846.5 848.4,846.5 849.9,845.2 851.5,844.9 853.0,845.6 854.5,845.5 856.1,845.4 857.6,845.4 859.2,845.0 860.7,846.2 862.3,845.2 863.8,846.8 865.4,845.4 866.9,844.6 868.5,846.1 870.0,846.3 871.6,844.1 873.1,845.1 874.7,844.6 876.2,846.1 877.8,846.4 879.3,844.7 880.9,844.5 882.4,844.8 884.0,845.7 885.5,845.9 887.0,845.9 888.6,845.3 890.1,845.8 891.7,846.6 893.2,844.4 894.8,845.8 896.3,844.0 897.9,845.2 899.4,846.3 901.0,845.3 902.5,845.5 904.1,846.5 905.6,846.3 907.2,846.2 908.7,846.4 910.3,846.9 911.8,847.9 913.4,845.5 914.9,847.9 916.5,844.9"/>
<polyline fill="none" stroke="#DA8BC3" stroke-width="2.1" stroke-linejoin="round" stroke-linecap="square" points="144.2,668.0 145.7,750.0 147.3,777.9 148.8,790.2 150.4,799.0 151.9,805.7 153.5,812.0 155.0,816.9 156.6,820.5 158.1,825.5 159.7,829.8 161.2,832.1 162.8,833.5 164.3,834.1 165.9,838.8 167.4,836.4 169.0,837.1 170.5,837.1 172.1,839.8 173.6,840.3 175.2,839.9 176.7,841.4 178.2,842.7 179.8,842.7 181.3,842.6 182.9,844.3 184.4,845.6 186.0,844.7 187.5,845.8 189.1,847.9 190.6,849.0 192.2,849.2 193.7,849.0 195.3,850.5 196.8,848.8 198.4,849.6 199.9,849.7 201.5,851.4 203.0,849.6 204.6,850.3 206.1,853.3 207.7,851.1 209.2,849.7 210.7,853.5 212.3,854.3 213.8,852.4 215.4,852.9 216.9,853.7 218.5,855.1 220.0,857.1 221.6,857.3 223.1,854.8 224.7,858.9 226.2,856.5 227.8,858.3 229.3,858.4 230.9,858.4 232.4,857.8 234.0,862.4 235.5,860.0 237.1,862.2 238.6,859.9 240.2,861.9 241.7,860.8 243.2,862.3 244.8,863.3 246.3,861.3 247.9,862.5 249.4,863.4 251.0,864.5 252.5,864.7 254.1,863.0 255.6,862.6 257.2,863.9 258.7,865.4 260.3,865.9 261.8,863.1 263.4,862.6 264.9,864.5 266.5,865.8 268.0,867.2 269.6,864.9 271.1,865.8 272.7,867.6 274.2,865.5 275.7,867.8 277.3,868.9 278.8,868.5 280.4,869.6 281.9,867.1 283.5,865.9 285.0,869.9 286.6,869.1 288.1,870.0 289.7,868.7 291.2,867.2 292.8,868.3 294.3,868.6 295.9,868.3 297.4,869.6 299.0,870.0 300.5,869.0 302.1,867.6 303.6,867.0 305.2,870.1 306.7,870.2 308.2,869.5 309.8,872.7 311.3,869.9 312.9,871.7 314.4,871.8 316.0,870.4 317.5,873.1 319.1,872.1 320.6,872.1 322.2,870.2 323.7,871.1 325.3,870.8 326.8,872.1 328.4,872.4 329.9,873.5 331.5,870.7 333.0,873.1 334.6,873.2 336.1,874.1 337.6,870.1 339.2,874.1 340.7,871.8 342.3,873.5 343.8,873.0 345.4,872.7 346.9,875.3 348.5,875.1 350.0,875.8 351.6,874.7 353.1,872.8 354.7,875.7 356.2,875.4 357.8,876.9 359.3,875.4 360.9,874.4 362.4,875.8 364.0,874.2 365.5,875.2 367.1,875.6 368.6,876.4 370.1,875.8 371.7,875.3 373.2,876.8 374.8,877.6 376.3,877.5 377.9,877.6 379.4,876.7 381.0,878.0 382.5,876.2 384.1,874.8 385.6,876.6 387.2,878.6 388.7,875.1 390.3,874.2 391.8,879.3 393.4,875.7 394.9,878.3 396.5,876.7 398.0,878.9 399.6,876.3 401.1,876.7 402.6,878.4 404.2,877.9 405.7,879.1 407.3,880.5 408.8,878.0 410.4,878.5 411.9,878.4 413.5,878.1 415.0,879.9 416.6,878.6 418.1,879.7 419.7,881.1 421.2,877.8 422.8,879.1 424.3,879.5 425.9,879.4 427.4,881.3 429.0,880.7 430.5,880.4 432.1,879.6 433.6,882.9 435.1,876.9 436.7,878.1 438.2,880.3 439.8,882.2 441.3,880.1 442.9,881.1 444.4,879.2 446.0,880.9 447.5,880.4 449.1,881.5 450.6,880.5 452.2,880.1 453.7,880.7 455.3,878.8 456.8,881.2 458.4,882.2 459.9,880.5 461.5,883.0 463.0,882.1 464.6,880.3 466.1,882.7 467.6,880.8 469.2,883.2 470.7,880.1 472.3,881.1 473.8,879.0 475.4,881.3 476.9,880.6 478.5,880.7 480.0,883.3 481.6,883.3 483.1,883.7 484.7,881.8 486.2,883.2 487.8,879.8 489.3,880.6 490.9,882.2 492.4,882.0 494.0,881.7 495.5,884.1 497.1,884.9 498.6,882.4 500.1,884.5 501.7,882.5 503.2,882.1 504.8,884.1 506.3,883.3 507.9,881.1 509.4,883.1 511.0,884.2 512.5,881.0 514.1,882.1 515.6,883.3 517.2,881.6 518.7,882.0 520.3,884.6 521.8,885.3 523.4,882.8 524.9,882.5 526.5,882.8 528.0,881.0 529.6,883.4 531.1,884.0 532.6,884.5 534.2,886.2 535.7,882.5 537.3,885.1 538.8,883.9 540.4,883.3 541.9,884.9 543.5,883.6 545.0,883.0 546.6,884.9 548.1,883.2 549.7,884.4 551.2,885.1 552.8,884.6 554.3,882.8 555.9,885.2 557.4,885.6 559.0,883.1 560.5,883.1 562.1,881.4 563.6,884.1 565.1,882.7 566.7,884.7 568.2,885.0 569.8,886.2 571.3,884.2 572.9,884.0 574.4,885.4 576.0,884.4 577.5,885.2 579.1,885.7 580.6,883.6 582.2,887.0 583.7,885.0 585.3,886.7 586.8,886.7 588.4,884.4 589.9,883.2 591.5,886.6 593.0,886.9 594.6,885.0 596.1,885.4 597.6,885.0 599.2,886.1 600.7,883.7 602.3,885.3 603.8,886.8 605.4,886.6 606.9,884.4 608.5,887.8 610.0,884.6 611.6,886.1 613.1,884.8 614.7,886.1 616.2,885.9 617.8,886.5 619.3,887.6 620.9,884.7 622.4,885.4 624.0,886.5 625.5,884.5 627.1,886.5 628.6,886.3 630.1,886.2 631.7,887.2 633.2,887.7 634.8,886.4 636.3,885.6 637.9,886.9 639.4,884.5 641.0,886.9 642.5,887.3 644.1,887.6 645.6,889.2 647.2,884.6 648.7,886.6 650.3,884.1 651.8,885.8 653.4,884.9 654.9,887.4 656.5,887.4 658.0,884.7 659.6,887.0 661.1,887.2 662.6,888.1 664.2,885.2 665.7,887.9 667.3,886.6 668.8,886.4 670.4,887.6 671.9,887.5 673.5,887.1 675.0,887.9 676.6,889.0 678.1,889.5 679.7,887.6 681.2,887.9 682.8,884.7 684.3,888.2 685.9,884.4 687.4,887.3 689.0,888.2 690.5,885.9 692.1,887.2 693.6,885.9 695.1,889.1 696.7,887.1 698.2,888.9 699.8,886.8 701.3,887.9 702.9,886.0 704.4,885.6 706.0,889.6 707.5,890.1 709.1,887.2 710.6,887.0 712.2,887.2 713.7,887.9 715.3,886.7 716.8,888.8 718.4,888.0 719.9,888.4 721.5,887.5 723.0,889.3 724.5,886.8 726.1,886.0 727.6,887.7 729.2,888.4 730.7,888.6 732.3,887.5 733.8,887.0 735.4,887.4 736.9,891.9 738.5,886.1 740.0,887.6 741.6,888.3 743.1,888.0 744.7,889.1 746.2,889.1 747.8,888.6 749.3,885.5 750.9,885.4 752.4,887.3 754.0,888.3 755.5,888.7 757.0,887.9 758.6,886.9 760.1,889.2 761.7,887.6 763.2,889.3 764.8,888.4 766.3,887.4 767.9,890.6 769.4,888.2 771.0,888.0 772.5,886.5 774.1,886.8 775.6,886.6 777.2,888.2 778.7,887.3 780.3,889.4 781.8,888.5 783.4,886.6 784.9,888.7 786.5,887.1 788.0,891.0 789.5,890.0 791.1,888.3 792.6,886.3 794.2,888.7 795.7,888.9 797.3,889.4 798.8,887.9 800.4,887.8 801.9,890.3 803.5,889.0 805.0,888.5 806.6,889.3 808.1,888.5 809.7,890.5 811.2,888.7 812.8,889.2 814.3,888.4 815.9,889.9 817.4,889.1 819.0,889.5 820.5,887.8 822.0,887.5 823.6,890.7 825.1,890.5 826.7,889.1 828.2,888.5 829.8,889.0 831.3,889.5 832.9,890.0 834.4,889.2 836.0,889.3 837.5,891.8 839.1,889.3 840.6,888.9 842.2,891.1 843.7,891.7 845.3,887.7 846.8,887.5 848.4,892.0 849.9,891.8 851.5,887.9 853.0,890.3 854.5,890.4 856.1,890.5 857.6,887.6 859.2,888.3 860.7,890.4 862.3,890.2 863.8,890.8 865.4,890.8 866.9,890.9 868.5,891.3 870.0,890.7 871.6,890.3 873.1,890.9 874.7,892.0 876.2,891.6 877.8,889.9 879.3,889.8 880.9,891.9 882.4,890.8 884.0,890.2 885.5,891.2 887.0,891.4 888.6,892.2 890.1,892.8 891.7,891.9 893.2,891.1 894.8,891.9 896.3,889.4 897.9,892.3 899.4,892.0 901.0,888.9 902.5,888.5 904.1,892.4 905.6,892.5 907.2,891.4 908.7,891.7 910.3,893.5 911.8,889.6 913.4,890.9 914.9,890.7 916.5,889.6"/>
<polyline fill="none" stroke="#8C8C8C" stroke-width="2.1" stroke-linejoin="round" stroke-linecap="square" points="144.2,668.0 145.7,700.0 147.3,727.5 148.8,755.7 150.4,775.5 151.9,783.9 153.5,787.9 155.0,792.1 156.6,796.4 158.1,799.4 159.7,798.7 161.2,802.3 162.8,803.8 164.3,804.0 165.9,803.9 167.4,805.7 169.0,807.1 170.5,809.2 172.1,810.5 173.6,809.7 175.2,811.6 176.7,812.8 178.2,813.7 179.8,815.9 181.3,815.7 182.9,816.9 184.4,816.5 186.0,819.0 187.5,818.8 189.1,822.4 190.6,821.4 192.2,822.1 193.7,822.7 195.3,822.0 196.8,823.3 198.4,824.3 199.9,825.6 201.5,825.4 203.0,824.3 204.6,825.8 206.1,826.2 207.7,825.1 209.2,827.7 210.7,828.2 212.3,826.9 213.8,830.3 215.4,828.8 216.9,828.2 218.5,831.0 220.0,828.8 221.6,829.8 223.1,828.2 224.7,829.2 226.2,832.3 227.8,829.8 229.3,830.3 230.9,831.2 232.4,830.9 234.0,830.7 235.5,831.2 237.1,832.4 238.6,834.3 240.2,833.9 241.7,835.6 243.2,832.8 244.8,834.1 246.3,834.4 247.9,834.9 249.4,835.4 251.0,833.2 252.5,836.7 254.1,835.5 255.6,835.2 257.2,836.2 258.7,835.6 260.3,835.2 261.8,836.3 263.4,835.0 264.9,836.1 266.5,838.1 268.0,838.1 269.6,836.7 271.1,835.9 272.7,838.5 274.2,838.9 275.7,838.7 277.3,838.0 278.8,839.3 280.4,839.1 281.9,839.9 283.5,840.5 285.0,840.1 286.6,840.1 288.1,841.1 289.7,841.0 291.2,840.1 292.8,841.1 294.3,842.0 295.9,842.2 297.4,841.5 299.0,841.8 300.5,841.1 302.1,842.6 303.6,843.7 305.2,843.2 306.7,842.6 308.2,843.9 309.8,843.5 311.3,844.3 312.9,842.6 314.4,843.7 316.0,845.1 317.5,845.6 319.1,844.0 320.6,844.5 322.2,847.0 323.7,845.7 325.3,845.4 326.8,846.3 328.4,845.5 329.9,844.6 331.5,846.4 333.0,846.3 334.6,846.2 336.1,847.0 337.6,846.3 339.2,846.9 340.7,845.8 342.3,849.0 343.8,849.4 345.4,847.0 346.9,846.8 348.5,848.9 350.0,849.5 351.6,848.5 353.1,848.0 354.7,851.1 356.2,848.8 357.8,850.0 359.3,850.1 360.9,850.3 362.4,851.4 364.0,851.6 365.5,848.9 367.1,850.4 368.6,851.8 370.1,851.0 371.7,850.4 373.2,851.9 374.8,850.8 376.3,851.2 377.9,852.4 379.4,852.2 381.0,853.7 382.5,852.6 384.1,852.1 385.6,853.2 387.2,852.2 388.7,852.5 390.3,852.6 391.8,852.2 393.4,853.0 394.9,853.0 396.5,853.1 398.0,852.0 399.6,853.7 401.1,853.3 402.6,853.1 404.2,853.2 405.7,852.7 407.3,852.8 408.8,855.4 410.4,853.8 411.9,854.4 413.5,854.4 415.0,853.1 416.6,853.7 418.1,853.4 419.7,854.5 421.2,854.4 422.8,853.2 424.3,855.1 425.9,855.2 427.4,852.9 429.0,854.7 430.5,854.7 432.1,852.8 433.6,853.4 435.1,855.1 436.7,853.5 438.2,852.8 439.8,854.8 441.3,852.9 442.9,854.7 444.4,855.1 446.0,854.9 447.5,855.7 449.1,855.1 450.6,855.0 452.2,854.2 453.7,856.5 455.3,854.3 456.8,855.9 458.4,855.5 459.9,855.3 461.5,854.5 463.0,854.2 464.6,855.9 466.1,856.7 467.6,856.2 469.2,855.1 470.7,857.3 472.3,853.8 473.8,856.4 475.4,857.5 476.9,857.7 478.5,856.6 480.0,858.1 481.6,858.7 483.1,856.8 484.7,858.3 486.2,857.3 487.8,858.4 489.3,856.2 490.9,858.3 492.4,858.9 494.0,858.9 495.5,857.9 497.1,855.9 498.6,858.3 500.1,855.8 501.7,858.3 503.2,858.5 504.8,859.0 506.3,857.9 507.9,859.3 509.4,858.3 511.0,857.6 512.5,859.0 514.1,861.2 515.6,859.4 517.2,859.6 518.7,860.9 520.3,860.4 521.8,860.5 523.4,858.0 524.9,858.8 526.5,861.9 528.0,860.0 529.6,859.0 531.1,861.2 532.6,860.4 534.2,858.1 535.7,859.5 537.3,859.1 538.8,859.1 540.4,859.7 541.9,859.1 543.5,860.1 545.0,860.9 546.6,860.5 548.1,860.5 549.7,861.8 551.2,860.6 552.8,861.1 554.3,860.2 555.9,859.9 557.4,861.7 559.0,860.3 560.5,861.4 562.1,862.2 563.6,860.9 565.1,863.6 566.7,862.7 568.2,860.8 569.8,863.8 571.3,862.2 572.9,862.8 574.4,861.3 576.0,862.2 577.5,861.7 579.1,862.3 580.6,861.4 582.2,861.6 583.7,861.4 585.3,860.0 586.8,861.4 588.4,862.6 589.9,861.1 591.5,861.3 593.0,863.8 594.6,860.7 596.1,862.3 597.6,863.0 599.2,863.2 600.7,863.0 602.3,863.0 603.8,862.7 605.4,861.7 606.9,860.6 608.5,864.6 610.0,862.5 611.6,863.1 613.1,862.0 614.7,863.1 616.2,861.7 617.8,862.3 619.3,863.4 620.9,865.0 622.4,863.8 624.0,865.3 625.5,863.6 627.1,863.6 628.6,864.9 630.1,863.4 631.7,862.0 633.2,864.0 634.8,863.9 636.3,863.8 637.9,864.1 639.4,863.3 641.0,863.6 642.5,862.4 644.1,864.5 645.6,863.1 647.2,865.0 648.7,863.9 650.3,863.0 651.8,864.6 653.4,864.3 654.9,864.4 656.5,864.0 658.0,863.4 659.6,865.5 661.1,862.5 662.6,863.0 664.2,865.4 665.7,865.8 667.3,862.2 668.8,866.0 670.4,864.8 671.9,862.2 673.5,863.6 675.0,863.2 676.6,864.4 678.1,864.1 679.7,865.7 681.2,864.6 682.8,865.3 684.3,865.5 685.9,863.5 687.4,864.4 689.0,865.1 690.5,865.0 692.1,864.0 693.6,865.2 695.1,863.6 696.7,864.2 698.2,865.4 699.8,865.6 701.3,863.9 702.9,865.2 704.4,865.6 706.0,866.0 707.5,865.8 709.1,865.3 710.6,864.2 712.2,863.6 713.7,864.5 715.3,864.7 716.8,865.0 718.4,865.7 719.9,866.0 721.5,867.6 723.0,863.9 724.5,864.8 726.1,864.1 727.6,864.7 729.2,864.5 730.7,865.1 732.3,865.2 733.8,864.9 735.4,865.6 736.9,867.1 738.5,867.1 740.0,866.5 741.6,867.5 743.1,864.6 744.7,865.9 746.2,867.8 747.8,866.7 749.3,866.5 750.9,866.9 752.4,867.0 754.0,868.2 755.5,869.1 757.0,866.3 758.6,866.6 760.1,867.3 761.7,868.2 763.2,868.7 764.8,868.0 766.3,868.5 767.9,867.9 769.4,868.6 771.0,866.3 772.5,869.1 774.1,868.5 775.6,867.4 777.2,868.5 778.7,867.4 780.3,869.8 781.8,869.9 783.4,868.9 784.9,867.2 786.5,866.9 788.0,869.1 789.5,867.9 791.1,871.2 792.6,867.7 794.2,867.7 795.7,870.2 797.3,871.4 798.8,867.8 800.4,870.3 801.9,869.9 803.5,869.2 805.0,868.3 806.6,869.0 808.1,869.3 809.7,870.4 811.2,870.5 812.8,869.6 814.3,868.0 815.9,869.4 817.4,869.5 819.0,869.0 820.5,870.5 822.0,871.5 823.6,871.0 825.1,870.0 826.7,868.8 828.2,870.9 829.8,871.7 831.3,870.8 832.9,870.8 834.4,871.0 836.0,870.6 837.5,869.7 839.1,872.6 840.6,872.0 842.2,872.3 843.7,871.0 845.3,871.7 846.8,869.0 848.4,870.9 849.9,871.0 851.5,870.3 853.0,870.3 854.5,869.5 856.1,871.6 857.6,871.5 859.2,871.8 860.7,870.7 862.3,872.3 863.8,873.7 865.4,871.0 866.9,872.2 868.5,868.9 870.0,873.4 871.6,873.2 873.1,871.8 874.7,872.5 876.2,870.3 877.8,873.0 879.3,870.9 880.9,871.6 882.4,871.4 884.0,872.9 885.5,872.2 887.0,872.3 888.6,873.1 890.1,870.9 891.7,872.6 893.2,873.1 894.8,874.3 896.3,873.4 897.9,871.2 899.4,873.2 901.0,870.7 902.5,871.9 904.1,872.0 905.6,873.0 907.2,871.9 908.7,872.2 910.3,872.8 911.8,872.5 913.4,872.8 914.9,871.9 916.5,872.5"/>
<rect x="105.9" y="575.7" width="849.5" height="421.9" fill="none" stroke="#d3d3d3" stroke-width="1.7"/>
<text x="144.2" y="1024.7" font-family="Liberation Sans" font-size="21.84" font-weight="bold" fill="#262626" text-anchor="middle" textLength="14.5" lengthAdjust="spacingAndGlyphs" stroke="#262626" stroke-width="0.45" >0</text>
<text x="299.0" y="1024.7" font-family="Liberation Sans" font-size="21.84" font-weight="bold" fill="#262626" text-anchor="middle" textLength="44.0" lengthAdjust="spacingAndGlyphs" stroke="#262626" stroke-width="0.45" >100</text>
<text x="453.7" y="1024.7" font-family="Liberation Sans" font-size="21.84" font-weight="bold" fill="#262626" text-anchor="middle" textLength="44.0" lengthAdjust="spacingAndGlyphs" stroke="#262626" stroke-width="0.45" >200</text>
<text x="608.5" y="1024.7" font-family="Liberation Sans" font-size="21.84" font-weight="bold" fill="#262626" text-anchor="middle" textLength="44.0" lengthAdjust="spacingAndGlyphs" stroke="#262626" stroke-width="0.45" >300</text>
<text x="763.2" y="1024.7" font-family="Liberation Sans" font-size="21.84" font-weight="bold" fill="#262626" text-anchor="middle" textLength="44.0" lengthAdjust="spacingAndGlyphs" stroke="#262626" stroke-width="0.45" >400</text>
<text x="918.0" y="1024.7" font-family="Liberation Sans" font-size="21.84" font-weight="bold" fill="#262626" text-anchor="middle" textLength="44.0" lengthAdjust="spacingAndGlyphs" stroke="#262626" stroke-width="0.45" >500</text>
<text x="530" y="1050.8" font-family="Liberation Sans" font-size="21.84" font-weight="bold" fill="#262626" text-anchor="middle" textLength="82.5" lengthAdjust="spacingAndGlyphs" stroke="#262626" stroke-width="0.45" >Epochs</text>
<text x="55.2" y="603.0" font-family="Liberation Sans" font-size="21.0" font-weight="bold" fill="#262626" text-anchor="start" textLength="27.5" lengthAdjust="spacingAndGlyphs" stroke="#262626" stroke-width="0.45" >10</text>
<text x="83.6" y="594.9" font-family="Liberation Sans" font-size="14.7" font-weight="bold" fill="#262626" text-anchor="start" textLength="10.2" lengthAdjust="spacingAndGlyphs" stroke="#262626" stroke-width="0.45" >0</text>
<text x="43.1" y="947.8" font-family="Liberation Sans" font-size="21.0" font-weight="bold" fill="#262626" text-anchor="start" textLength="27.5" lengthAdjust="spacingAndGlyphs" stroke="#262626" stroke-width="0.45" >10</text>
<text x="72.0" y="940.6" font-family="Liberation Sans" font-size="14.7" font-weight="bold" fill="#262626" text-anchor="start" textLength="10.5" lengthAdjust="spacingAndGlyphs" stroke="#262626" stroke-width="0.45" >−</text>
<text x="83.2" y="940.0" font-family="Liberation Sans" font-size="14.7" font-weight="bold" fill="#262626" text-anchor="start" textLength="10.6" lengthAdjust="spacingAndGlyphs" stroke="#262626" stroke-width="0.45" >1</text>
<g transform="translate(28.3,787.8) rotate(-90)"><text x="0" y="0" font-family="Liberation Sans" font-size="21.0" font-weight="bold" fill="#262626" text-anchor="middle" textLength="168.5" lengthAdjust="spacingAndGlyphs" stroke="#262626" stroke-width="0.45" >Test MSE Loss</text></g>
<rect x="724.3" y="583.4" width="223.3" height="187.6" rx="3" ry="3" fill="#ffffff" fill-opacity="0.8" stroke="#d6d6d6" stroke-width="1.3"/>
<line x1="729.5" y1="594.6" x2="760.5" y2="594.6" stroke="#4C72B0" stroke-width="2.2"/>
<text x="772.3" y="601.1" font-family="Liberation Sans" font-size="14.91" font-weight="bold" fill="#262626" text-anchor="start" textLength="167.9" lengthAdjust="spacingAndGlyphs" stroke="#262626" stroke-width="0.45" >FNO-DEQ #Blocks 1</text>
<line x1="729.5" y1="617.6" x2="760.5" y2="617.6" stroke="#DD8452" stroke-width="2.2"/>
<text x="772.3" y="624.0" font-family="Liberation Sans" font-size="14.91" font-weight="bold" fill="#262626" text-anchor="start" textLength="157.9" lengthAdjust="spacingAndGlyphs" stroke="#262626" stroke-width="0.45" >FNO-WT #Blocks 1</text>
<line x1="729.5" y1="640.7" x2="760.5" y2="640.7" stroke="#55A868" stroke-width="2.2"/>
<text x="772.3" y="647.0" font-family="Liberation Sans" font-size="14.91" font-weight="bold" fill="#262626" text-anchor="start" textLength="151.4" lengthAdjust="spacingAndGlyphs" stroke="#262626" stroke-width="0.45" >FNO++ #Blocks 1</text>
<line x1="729.5" y1="663.7" x2="760.5" y2="663.7" stroke="#C44E52" stroke-width="2.2"/>
<text x="772.3" y="669.9" font-family="Liberation Sans" font-size="14.91" font-weight="bold" fill="#262626" text-anchor="start" textLength="151.4" lengthAdjust="spacingAndGlyphs" stroke="#262626" stroke-width="0.45" >FNO++ #Blocks 2</text>
<line x1="729.5" y1="686.8" x2="760.5" y2="686.8" stroke="#8172B3" stroke-width="2.2"/>
<text x="772.3" y="692.8" font-family="Liberation Sans" font-size="14.91" font-weight="bold" fill="#262626" text-anchor="start" textLength="151.4" lengthAdjust="spacingAndGlyphs" stroke="#262626" stroke-width="0.45" >FNO++ #Blocks 4</text>
<line x1="729.5" y1="709.8" x2="760.5" y2="709.8" stroke="#937860" stroke-width="2.2"/>
<text x="772.3" y="715.8" font-family="Liberation Sans" font-size="14.91" font-weight="bold" fill="#262626" text-anchor="start" textLength="125.2" lengthAdjust="spacingAndGlyphs" stroke="#262626" stroke-width="0.45" >FNO #Blocks 1</text>
<line x1="729.5" y1="732.8" x2="760.5" y2="732.8" stroke="#DA8BC3" stroke-width="2.2"/>
<text x="772.3" y="738.7" font-family="Liberation Sans" font-size="14.91" font-weight="bold" fill="#262626" text-anchor="start" textLength="125.2" lengthAdjust="spacingAndGlyphs" stroke="#262626" stroke-width="0.45" >FNO #Blocks 2</text>
<line x1="729.5" y1="755.9" x2="760.5" y2="755.9" stroke="#8C8C8C" stroke-width="2.2"/>
<text x="772.3" y="761.6" font-family="Liberation Sans" font-size="14.91" font-weight="bold" fill="#262626" text-anchor="start" textLength="125.2" lengthAdjust="spacingAndGlyphs" stroke="#262626" stroke-width="0.45" >FNO #Blocks 4</text>
<text x="483" y="550.5" font-family="Liberation Serif" font-size="31" font-weight="normal" fill="#000" text-anchor="middle" textLength="296.5" lengthAdjust="spacingAndGlyphs" >(a) Training Loss Curve</text>
<text x="483" y="1111.2" font-family="Liberation Serif" font-size="31" font-weight="normal" fill="#000" text-anchor="middle" textLength="244.5" lengthAdjust="spacingAndGlyphs" >(b) Test Loss Curve</text>
</svg></body></html>
